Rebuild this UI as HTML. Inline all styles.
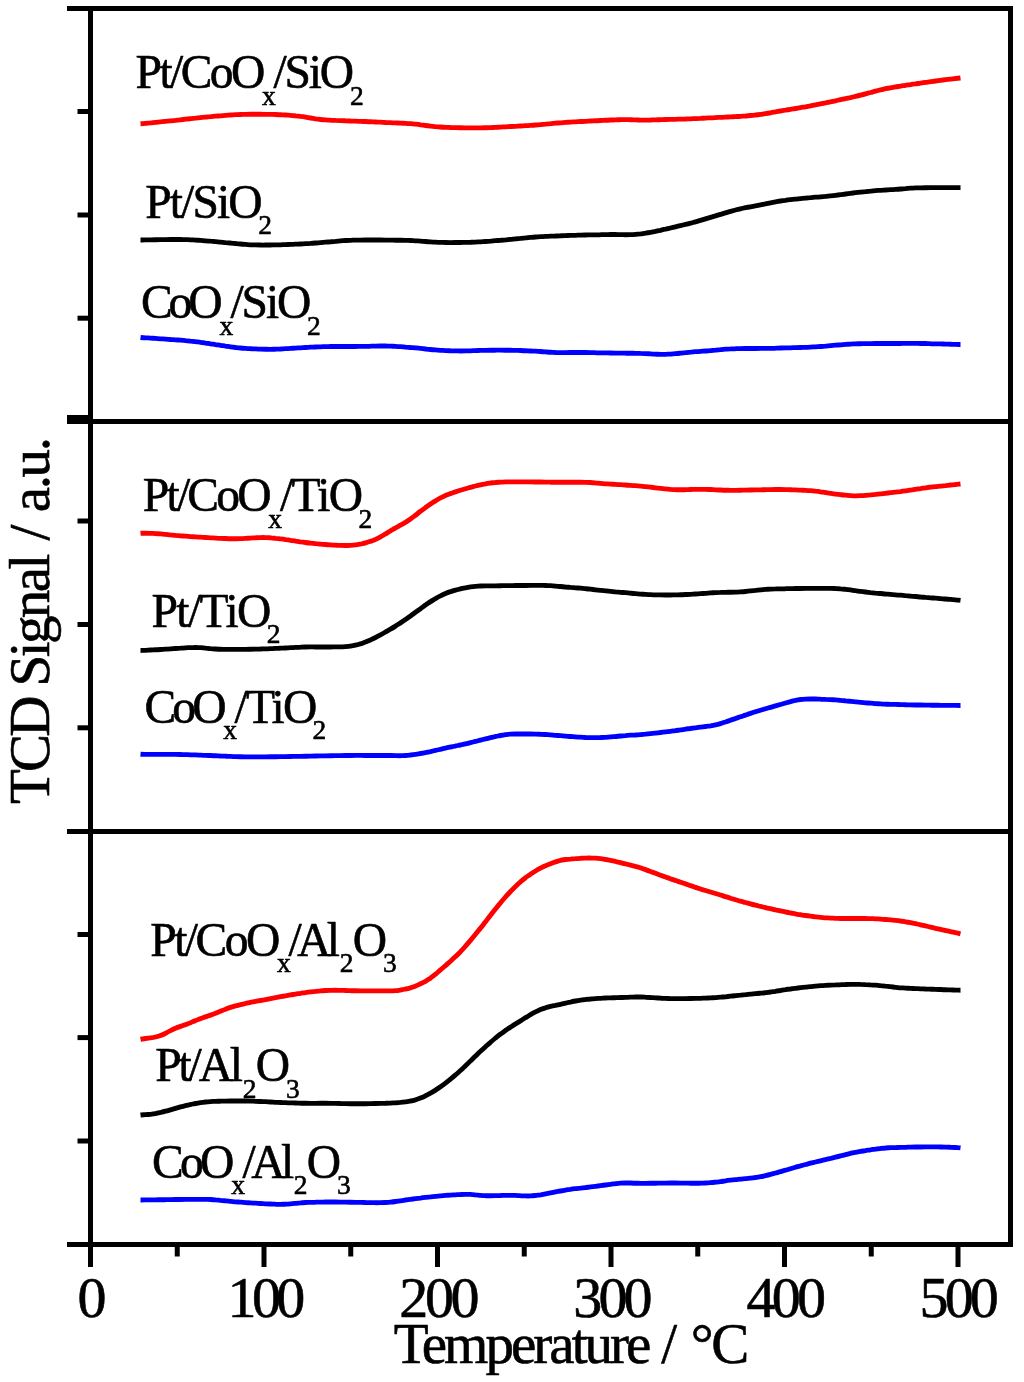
<!DOCTYPE html>
<html lang="en">
<head>
<meta charset="utf-8">
<title>TCD Signal vs Temperature</title>
<style>
html,body{margin:0;padding:0;background:#fff;}
body{width:1024px;height:1382px;overflow:hidden;}
svg{display:block;}
text{font-family:"Liberation Serif","Times New Roman",serif;fill:#000;white-space:pre;stroke:#000;stroke-width:0.6px;stroke-linejoin:round;}
.fr{stroke:#000;stroke-width:5;fill:none;stroke-linecap:butt;}
.cv{fill:none;stroke-width:4.85;stroke-linecap:butt;stroke-linejoin:round;}
</style>
</head>
<body>
<svg width="1024" height="1382" viewBox="0 0 1024 1382">
<rect x="0" y="0" width="1024" height="1382" fill="#ffffff"/>
<g class="fr">
<line x1="90.5" y1="6" x2="90.5" y2="1267"/>
<line x1="1010.5" y1="6" x2="1010.5" y2="1247"/>
<line x1="67" y1="8.5" x2="1013" y2="8.5"/>
<line x1="67" y1="421.5" x2="1013" y2="421.5"/>
<line x1="67" y1="831.5" x2="1013" y2="831.5"/>
<line x1="67" y1="1244.5" x2="1013" y2="1244.5"/>
<line x1="67" y1="417.5" x2="90.5" y2="417.5"/>
<line x1="77.5" y1="111.5" x2="90.5" y2="111.5"/>
<line x1="77.5" y1="215" x2="90.5" y2="215"/>
<line x1="77.5" y1="318.2" x2="90.5" y2="318.2"/>
<line x1="77.5" y1="521" x2="90.5" y2="521"/>
<line x1="77.5" y1="624.5" x2="90.5" y2="624.5"/>
<line x1="77.5" y1="727.8" x2="90.5" y2="727.8"/>
<line x1="77.5" y1="934.5" x2="90.5" y2="934.5"/>
<line x1="77.5" y1="1037.6" x2="90.5" y2="1037.6"/>
<line x1="77.5" y1="1141" x2="90.5" y2="1141"/>
<line x1="177.25" y1="1244.5" x2="177.25" y2="1256.5"/>
<line x1="264.00" y1="1244.5" x2="264.00" y2="1267"/>
<line x1="350.75" y1="1244.5" x2="350.75" y2="1256.5"/>
<line x1="437.50" y1="1244.5" x2="437.50" y2="1267"/>
<line x1="524.25" y1="1244.5" x2="524.25" y2="1256.5"/>
<line x1="611.00" y1="1244.5" x2="611.00" y2="1267"/>
<line x1="697.75" y1="1244.5" x2="697.75" y2="1256.5"/>
<line x1="784.50" y1="1244.5" x2="784.50" y2="1267"/>
<line x1="871.25" y1="1244.5" x2="871.25" y2="1256.5"/>
<line x1="958.00" y1="1244.5" x2="958.00" y2="1267"/>
</g>
<path class="cv" stroke="#ff0000" d="M140.50 123.75 C141.3 123.7 143.8 123.5 145.5 123.3 C147.2 123.2 148.8 123.0 150.5 122.9 C152.2 122.7 153.8 122.6 155.5 122.4 C157.2 122.2 158.8 122.1 160.5 121.9 C162.2 121.8 163.8 121.6 165.5 121.4 C167.2 121.3 168.8 121.1 170.5 120.9 C172.2 120.7 173.8 120.5 175.5 120.4 C177.2 120.2 178.8 120.0 180.5 119.8 C182.2 119.6 183.8 119.4 185.5 119.2 C187.2 119.1 188.8 118.9 190.5 118.7 C192.2 118.5 193.8 118.3 195.5 118.2 C197.2 118.0 198.8 117.8 200.5 117.6 C202.2 117.5 203.8 117.3 205.5 117.1 C207.2 117.0 208.8 116.8 210.5 116.7 C212.2 116.5 213.8 116.4 215.5 116.2 C217.2 116.1 218.8 115.9 220.5 115.8 C222.2 115.7 223.8 115.5 225.5 115.4 C227.2 115.3 228.8 115.1 230.5 115.0 C232.2 114.9 233.8 114.8 235.5 114.7 C237.2 114.6 238.8 114.6 240.5 114.5 C242.2 114.4 243.8 114.4 245.5 114.3 C247.2 114.3 248.8 114.3 250.5 114.2 C252.2 114.2 253.8 114.2 255.5 114.2 C257.2 114.2 258.8 114.2 260.5 114.2 C262.2 114.2 263.8 114.2 265.5 114.3 C267.2 114.3 268.8 114.3 270.5 114.4 C272.2 114.4 273.8 114.5 275.5 114.5 C277.2 114.6 278.8 114.7 280.5 114.7 C282.2 114.8 283.8 114.9 285.5 115.0 C287.2 115.1 288.8 115.2 290.5 115.3 C292.2 115.4 293.8 115.6 295.5 115.8 C297.2 115.9 298.8 116.1 300.5 116.4 C302.2 116.6 303.8 116.8 305.5 117.1 C307.2 117.4 308.8 117.7 310.5 118.0 C312.2 118.3 313.8 118.6 315.5 118.9 C317.2 119.1 318.8 119.3 320.5 119.5 C322.2 119.7 323.8 119.8 325.5 119.9 C327.2 120.0 328.8 120.1 330.5 120.2 C332.2 120.2 333.8 120.3 335.5 120.4 C337.2 120.4 338.8 120.5 340.5 120.6 C342.2 120.6 343.8 120.7 345.5 120.8 C347.2 120.8 348.8 120.9 350.5 121.0 C352.2 121.0 353.8 121.1 355.5 121.1 C357.2 121.2 358.8 121.3 360.5 121.3 C362.2 121.4 363.8 121.5 365.5 121.5 C367.2 121.6 368.8 121.7 370.5 121.7 C372.2 121.8 373.8 121.9 375.5 122.0 C377.2 122.1 378.8 122.1 380.5 122.2 C382.2 122.3 383.8 122.4 385.5 122.5 C387.2 122.5 388.8 122.6 390.5 122.7 C392.2 122.8 393.8 122.8 395.5 122.9 C397.2 123.0 398.8 123.0 400.5 123.1 C402.2 123.2 403.8 123.3 405.5 123.4 C407.2 123.5 408.8 123.6 410.5 123.7 C412.2 123.9 413.8 124.0 415.5 124.2 C417.2 124.4 418.8 124.6 420.5 124.9 C422.2 125.1 423.8 125.3 425.5 125.5 C427.2 125.8 428.8 126.0 430.5 126.2 C432.2 126.4 433.8 126.5 435.5 126.7 C437.2 126.8 438.8 126.9 440.5 127.0 C442.2 127.2 443.8 127.2 445.5 127.3 C447.2 127.4 448.8 127.4 450.5 127.5 C452.2 127.5 453.8 127.6 455.5 127.6 C457.2 127.7 458.8 127.7 460.5 127.7 C462.2 127.8 463.8 127.8 465.5 127.8 C467.2 127.8 468.8 127.9 470.5 127.9 C472.2 127.9 473.8 127.9 475.5 127.9 C477.2 127.9 478.8 127.9 480.5 127.8 C482.2 127.8 483.8 127.8 485.5 127.7 C487.2 127.7 488.8 127.7 490.5 127.6 C492.2 127.5 493.8 127.5 495.5 127.4 C497.2 127.3 498.8 127.2 500.5 127.1 C502.2 127.0 503.8 126.9 505.5 126.8 C507.2 126.7 508.8 126.6 510.5 126.5 C512.2 126.4 513.8 126.3 515.5 126.3 C517.2 126.2 518.8 126.1 520.5 126.0 C522.2 125.9 523.8 125.8 525.5 125.7 C527.2 125.6 528.8 125.5 530.5 125.4 C532.2 125.3 533.8 125.2 535.5 125.0 C537.2 124.9 538.8 124.8 540.5 124.6 C542.2 124.5 543.8 124.3 545.5 124.2 C547.2 124.0 548.8 123.8 550.5 123.7 C552.2 123.5 553.8 123.4 555.5 123.2 C557.2 123.1 558.8 122.9 560.5 122.8 C562.2 122.7 563.8 122.6 565.5 122.4 C567.2 122.3 568.8 122.2 570.5 122.1 C572.2 122.0 573.8 121.9 575.5 121.8 C577.2 121.7 578.8 121.6 580.5 121.5 C582.2 121.5 583.8 121.4 585.5 121.3 C587.2 121.2 588.8 121.1 590.5 121.0 C592.2 120.9 593.8 120.8 595.5 120.7 C597.2 120.7 598.8 120.6 600.5 120.5 C602.2 120.4 603.8 120.3 605.5 120.2 C607.2 120.2 608.8 120.1 610.5 120.0 C612.2 120.0 613.8 119.9 615.5 119.8 C617.2 119.8 618.8 119.7 620.5 119.7 C622.2 119.6 623.8 119.6 625.5 119.6 C627.2 119.6 628.8 119.7 630.5 119.7 C632.2 119.8 633.8 119.9 635.5 119.9 C637.2 120.0 638.8 120.0 640.5 120.1 C642.2 120.1 643.8 120.1 645.5 120.1 C647.2 120.0 648.8 120.0 650.5 120.0 C652.2 119.9 653.8 119.9 655.5 119.8 C657.2 119.8 658.8 119.7 660.5 119.7 C662.2 119.6 663.8 119.6 665.5 119.5 C667.2 119.5 668.8 119.5 670.5 119.4 C672.2 119.4 673.8 119.3 675.5 119.3 C677.2 119.2 678.8 119.2 680.5 119.1 C682.2 119.1 683.8 119.0 685.5 119.0 C687.2 118.9 688.8 118.9 690.5 118.8 C692.2 118.7 693.8 118.7 695.5 118.6 C697.2 118.5 698.8 118.4 700.5 118.4 C702.2 118.3 703.8 118.2 705.5 118.1 C707.2 118.0 708.8 117.9 710.5 117.8 C712.2 117.8 713.8 117.7 715.5 117.6 C717.2 117.5 718.8 117.4 720.5 117.3 C722.2 117.3 723.8 117.2 725.5 117.1 C727.2 117.0 728.8 117.0 730.5 116.9 C732.2 116.8 733.8 116.7 735.5 116.6 C737.2 116.5 738.8 116.5 740.5 116.3 C742.2 116.2 743.8 116.1 745.5 116.0 C747.2 115.8 748.8 115.7 750.5 115.5 C752.2 115.4 753.8 115.2 755.5 115.0 C757.2 114.9 758.8 114.7 760.5 114.4 C762.2 114.2 763.8 114.0 765.5 113.7 C767.2 113.4 768.8 113.1 770.5 112.8 C772.2 112.6 773.8 112.2 775.5 111.9 C777.2 111.6 778.8 111.3 780.5 111.0 C782.2 110.7 783.8 110.4 785.5 110.2 C787.2 109.9 788.8 109.6 790.5 109.3 C792.2 109.0 793.8 108.8 795.5 108.5 C797.2 108.2 798.8 107.9 800.5 107.6 C802.2 107.3 803.8 107.1 805.5 106.8 C807.2 106.5 808.8 106.2 810.5 105.9 C812.2 105.5 813.8 105.2 815.5 104.9 C817.2 104.6 818.8 104.2 820.5 103.9 C822.2 103.6 823.8 103.2 825.5 102.9 C827.2 102.5 828.8 102.2 830.5 101.8 C832.2 101.5 833.8 101.1 835.5 100.8 C837.2 100.4 838.8 100.1 840.5 99.7 C842.2 99.3 843.8 99.0 845.5 98.6 C847.2 98.3 848.8 97.9 850.5 97.6 C852.2 97.2 853.8 96.8 855.5 96.4 C857.2 96.0 858.8 95.6 860.5 95.1 C862.2 94.7 863.8 94.3 865.5 93.8 C867.2 93.4 868.8 92.9 870.5 92.5 C872.2 92.0 873.8 91.6 875.5 91.1 C877.2 90.7 878.8 90.3 880.5 89.9 C882.2 89.5 883.8 89.1 885.5 88.7 C887.2 88.4 888.8 88.1 890.5 87.8 C892.2 87.5 893.8 87.2 895.5 86.9 C897.2 86.6 898.8 86.4 900.5 86.1 C902.2 85.8 903.8 85.6 905.5 85.3 C907.2 85.1 908.8 84.8 910.5 84.6 C912.2 84.3 913.8 84.1 915.5 83.9 C917.2 83.6 918.8 83.4 920.5 83.1 C922.2 82.9 923.8 82.7 925.5 82.4 C927.2 82.2 928.8 81.9 930.5 81.7 C932.2 81.5 933.8 81.2 935.5 81.0 C937.2 80.8 938.8 80.6 940.5 80.3 C942.2 80.1 943.8 79.9 945.5 79.7 C947.2 79.5 948.8 79.3 950.5 79.1 C952.2 78.9 953.8 78.7 955.5 78.5 C957.2 78.4 959.7 78.1 960.5 78.0"/>
<path class="cv" stroke="#000000" d="M140.50 240.00 C141.3 240.0 143.8 239.9 145.5 239.9 C147.2 239.9 148.8 239.9 150.5 239.8 C152.2 239.8 153.8 239.8 155.5 239.7 C157.2 239.7 158.8 239.7 160.5 239.6 C162.2 239.6 163.8 239.6 165.5 239.6 C167.2 239.5 168.8 239.5 170.5 239.5 C172.2 239.5 173.8 239.5 175.5 239.5 C177.2 239.5 178.8 239.5 180.5 239.5 C182.2 239.5 183.8 239.6 185.5 239.6 C187.2 239.7 188.8 239.7 190.5 239.8 C192.2 239.9 193.8 240.0 195.5 240.1 C197.2 240.2 198.8 240.3 200.5 240.4 C202.2 240.5 203.8 240.7 205.5 240.8 C207.2 240.9 208.8 241.0 210.5 241.2 C212.2 241.3 213.8 241.5 215.5 241.6 C217.2 241.8 218.8 241.9 220.5 242.1 C222.2 242.3 223.8 242.4 225.5 242.6 C227.2 242.7 228.8 242.9 230.5 243.0 C232.2 243.2 233.8 243.4 235.5 243.5 C237.2 243.7 238.8 243.9 240.5 244.0 C242.2 244.2 243.8 244.3 245.5 244.4 C247.2 244.6 248.8 244.7 250.5 244.8 C252.2 244.8 253.8 244.9 255.5 244.9 C257.2 245.0 258.8 245.0 260.5 245.0 C262.2 245.1 263.8 245.1 265.5 245.0 C267.2 245.0 268.8 245.0 270.5 245.0 C272.2 245.0 273.8 244.9 275.5 244.9 C277.2 244.8 278.8 244.8 280.5 244.8 C282.2 244.7 283.8 244.7 285.5 244.6 C287.2 244.5 288.8 244.5 290.5 244.4 C292.2 244.3 293.8 244.3 295.5 244.2 C297.2 244.1 298.8 244.1 300.5 244.0 C302.2 243.9 303.8 243.8 305.5 243.7 C307.2 243.6 308.8 243.5 310.5 243.4 C312.2 243.2 313.8 243.1 315.5 243.0 C317.2 242.9 318.8 242.7 320.5 242.6 C322.2 242.5 323.8 242.3 325.5 242.2 C327.2 242.1 328.8 241.9 330.5 241.8 C332.2 241.6 333.8 241.4 335.5 241.3 C337.2 241.1 338.8 241.0 340.5 240.8 C342.2 240.7 343.8 240.6 345.5 240.5 C347.2 240.4 348.8 240.3 350.5 240.3 C352.2 240.2 353.8 240.2 355.5 240.1 C357.2 240.1 358.8 240.1 360.5 240.1 C362.2 240.0 363.8 240.0 365.5 240.0 C367.2 240.0 368.8 240.0 370.5 240.0 C372.2 240.0 373.8 240.0 375.5 240.0 C377.2 240.0 378.8 240.0 380.5 240.0 C382.2 240.1 383.8 240.1 385.5 240.1 C387.2 240.1 388.8 240.1 390.5 240.1 C392.2 240.1 393.8 240.2 395.5 240.2 C397.2 240.2 398.8 240.2 400.5 240.2 C402.2 240.3 403.8 240.3 405.5 240.3 C407.2 240.4 408.8 240.4 410.5 240.5 C412.2 240.6 413.8 240.7 415.5 240.8 C417.2 240.9 418.8 241.0 420.5 241.1 C422.2 241.3 423.8 241.4 425.5 241.5 C427.2 241.7 428.8 241.8 430.5 241.9 C432.2 242.0 433.8 242.1 435.5 242.2 C437.2 242.3 438.8 242.3 440.5 242.4 C442.2 242.4 443.8 242.5 445.5 242.5 C447.2 242.5 448.8 242.5 450.5 242.6 C452.2 242.6 453.8 242.6 455.5 242.5 C457.2 242.5 458.8 242.5 460.5 242.5 C462.2 242.5 463.8 242.4 465.5 242.4 C467.2 242.4 468.8 242.3 470.5 242.3 C472.2 242.2 473.8 242.1 475.5 242.1 C477.2 242.0 478.8 241.9 480.5 241.8 C482.2 241.7 483.8 241.6 485.5 241.5 C487.2 241.4 488.8 241.3 490.5 241.2 C492.2 241.0 493.8 240.9 495.5 240.7 C497.2 240.6 498.8 240.4 500.5 240.3 C502.2 240.1 503.8 239.9 505.5 239.8 C507.2 239.6 508.8 239.5 510.5 239.3 C512.2 239.1 513.8 239.0 515.5 238.8 C517.2 238.7 518.8 238.5 520.5 238.4 C522.2 238.2 523.8 238.0 525.5 237.9 C527.2 237.7 528.8 237.6 530.5 237.4 C532.2 237.3 533.8 237.2 535.5 237.0 C537.2 236.9 538.8 236.8 540.5 236.7 C542.2 236.6 543.8 236.5 545.5 236.4 C547.2 236.3 548.8 236.3 550.5 236.2 C552.2 236.1 553.8 236.0 555.5 236.0 C557.2 235.9 558.8 235.8 560.5 235.8 C562.2 235.7 563.8 235.6 565.5 235.6 C567.2 235.5 568.8 235.5 570.5 235.4 C572.2 235.4 573.8 235.3 575.5 235.3 C577.2 235.2 578.8 235.2 580.5 235.1 C582.2 235.1 583.8 235.1 585.5 235.0 C587.2 235.0 588.8 234.9 590.5 234.9 C592.2 234.8 593.8 234.8 595.5 234.8 C597.2 234.7 598.8 234.7 600.5 234.7 C602.2 234.6 603.8 234.6 605.5 234.6 C607.2 234.6 608.8 234.5 610.5 234.5 C612.2 234.5 613.8 234.5 615.5 234.5 C617.2 234.5 618.8 234.6 620.5 234.6 C622.2 234.6 623.8 234.7 625.5 234.7 C627.2 234.7 628.8 234.7 630.5 234.6 C632.2 234.6 633.8 234.5 635.5 234.3 C637.2 234.2 638.8 234.0 640.5 233.9 C642.2 233.7 643.8 233.4 645.5 233.2 C647.2 232.9 648.8 232.6 650.5 232.3 C652.2 232.0 653.8 231.7 655.5 231.4 C657.2 231.0 658.8 230.6 660.5 230.3 C662.2 229.9 663.8 229.5 665.5 229.2 C667.2 228.8 668.8 228.4 670.5 228.0 C672.2 227.6 673.8 227.2 675.5 226.8 C677.2 226.4 678.8 226.0 680.5 225.6 C682.2 225.2 683.8 224.8 685.5 224.4 C687.2 224.0 688.8 223.6 690.5 223.2 C692.2 222.7 693.8 222.3 695.5 221.8 C697.2 221.4 698.8 220.9 700.5 220.4 C702.2 219.9 703.8 219.4 705.5 218.9 C707.2 218.4 708.8 217.9 710.5 217.4 C712.2 216.9 713.8 216.4 715.5 215.9 C717.2 215.3 718.8 214.8 720.5 214.3 C722.2 213.8 723.8 213.4 725.5 212.9 C727.2 212.4 728.8 211.9 730.5 211.4 C732.2 210.9 733.8 210.4 735.5 210.0 C737.2 209.6 738.8 209.2 740.5 208.8 C742.2 208.4 743.8 208.1 745.5 207.7 C747.2 207.4 748.8 207.1 750.5 206.8 C752.2 206.5 753.8 206.2 755.5 205.9 C757.2 205.6 758.8 205.2 760.5 204.9 C762.2 204.6 763.8 204.2 765.5 203.9 C767.2 203.5 768.8 203.2 770.5 202.8 C772.2 202.5 773.8 202.2 775.5 201.9 C777.2 201.6 778.8 201.3 780.5 201.0 C782.2 200.7 783.8 200.5 785.5 200.3 C787.2 200.0 788.8 199.8 790.5 199.6 C792.2 199.5 793.8 199.3 795.5 199.1 C797.2 198.9 798.8 198.8 800.5 198.6 C802.2 198.5 803.8 198.3 805.5 198.1 C807.2 198.0 808.8 197.8 810.5 197.7 C812.2 197.5 813.8 197.4 815.5 197.2 C817.2 197.1 818.8 197.0 820.5 196.8 C822.2 196.7 823.8 196.5 825.5 196.4 C827.2 196.2 828.8 196.1 830.5 195.9 C832.2 195.7 833.8 195.5 835.5 195.3 C837.2 195.1 838.8 194.9 840.5 194.7 C842.2 194.5 843.8 194.2 845.5 194.0 C847.2 193.8 848.8 193.6 850.5 193.3 C852.2 193.1 853.8 192.9 855.5 192.7 C857.2 192.5 858.8 192.3 860.5 192.1 C862.2 191.9 863.8 191.7 865.5 191.6 C867.2 191.4 868.8 191.2 870.5 191.1 C872.2 190.9 873.8 190.8 875.5 190.6 C877.2 190.5 878.8 190.4 880.5 190.3 C882.2 190.1 883.8 190.1 885.5 190.0 C887.2 189.9 888.8 189.8 890.5 189.7 C892.2 189.6 893.8 189.5 895.5 189.4 C897.2 189.3 898.8 189.2 900.5 189.0 C902.2 188.9 903.8 188.7 905.5 188.6 C907.2 188.4 908.8 188.3 910.5 188.2 C912.2 188.1 913.8 188.0 915.5 187.9 C917.2 187.8 918.8 187.8 920.5 187.8 C922.2 187.7 923.8 187.7 925.5 187.7 C927.2 187.7 928.8 187.7 930.5 187.6 C932.2 187.6 933.8 187.6 935.5 187.6 C937.2 187.6 938.8 187.6 940.5 187.6 C942.2 187.6 943.8 187.6 945.5 187.6 C947.2 187.6 948.8 187.6 950.5 187.6 C952.2 187.6 953.8 187.6 955.5 187.6 C957.2 187.6 959.7 187.6 960.5 187.6"/>
<path class="cv" stroke="#0000ff" d="M140.50 337.50 C141.3 337.6 143.8 337.7 145.5 337.8 C147.2 337.9 148.8 338.0 150.5 338.1 C152.2 338.2 153.8 338.3 155.5 338.4 C157.2 338.6 158.8 338.7 160.5 338.8 C162.2 338.9 163.8 339.0 165.5 339.1 C167.2 339.2 168.8 339.3 170.5 339.5 C172.2 339.6 173.8 339.7 175.5 339.8 C177.2 339.9 178.8 340.1 180.5 340.2 C182.2 340.3 183.8 340.4 185.5 340.6 C187.2 340.7 188.8 340.9 190.5 341.1 C192.2 341.2 193.8 341.4 195.5 341.6 C197.2 341.8 198.8 342.1 200.5 342.3 C202.2 342.5 203.8 342.8 205.5 343.1 C207.2 343.3 208.8 343.6 210.5 343.8 C212.2 344.1 213.8 344.3 215.5 344.6 C217.2 344.8 218.8 345.1 220.5 345.3 C222.2 345.6 223.8 345.8 225.5 346.1 C227.2 346.3 228.8 346.6 230.5 346.8 C232.2 347.1 233.8 347.3 235.5 347.5 C237.2 347.7 238.8 347.9 240.5 348.0 C242.2 348.2 243.8 348.3 245.5 348.4 C247.2 348.5 248.8 348.6 250.5 348.7 C252.2 348.8 253.8 348.9 255.5 348.9 C257.2 349.0 258.8 349.1 260.5 349.1 C262.2 349.2 263.8 349.2 265.5 349.2 C267.2 349.3 268.8 349.3 270.5 349.3 C272.2 349.3 273.8 349.2 275.5 349.2 C277.2 349.1 278.8 349.0 280.5 349.0 C282.2 348.9 283.8 348.8 285.5 348.7 C287.2 348.6 288.8 348.5 290.5 348.4 C292.2 348.3 293.8 348.2 295.5 348.1 C297.2 348.0 298.8 347.9 300.5 347.8 C302.2 347.7 303.8 347.6 305.5 347.5 C307.2 347.4 308.8 347.3 310.5 347.2 C312.2 347.1 313.8 347.1 315.5 347.0 C317.2 346.9 318.8 346.9 320.5 346.8 C322.2 346.7 323.8 346.7 325.5 346.6 C327.2 346.6 328.8 346.5 330.5 346.5 C332.2 346.5 333.8 346.5 335.5 346.5 C337.2 346.4 338.8 346.5 340.5 346.5 C342.2 346.5 343.8 346.5 345.5 346.5 C347.2 346.5 348.8 346.5 350.5 346.5 C352.2 346.5 353.8 346.5 355.5 346.5 C357.2 346.5 358.8 346.4 360.5 346.4 C362.2 346.4 363.8 346.3 365.5 346.3 C367.2 346.2 368.8 346.2 370.5 346.2 C372.2 346.1 373.8 346.1 375.5 346.1 C377.2 346.0 378.8 346.0 380.5 346.0 C382.2 346.0 383.8 346.0 385.5 346.0 C387.2 346.0 388.8 346.1 390.5 346.1 C392.2 346.2 393.8 346.3 395.5 346.4 C397.2 346.5 398.8 346.6 400.5 346.7 C402.2 346.8 403.8 346.9 405.5 347.1 C407.2 347.2 408.8 347.3 410.5 347.5 C412.2 347.6 413.8 347.8 415.5 347.9 C417.2 348.1 418.8 348.3 420.5 348.4 C422.2 348.6 423.8 348.8 425.5 349.0 C427.2 349.2 428.8 349.4 430.5 349.5 C432.2 349.7 433.8 349.8 435.5 349.9 C437.2 350.1 438.8 350.2 440.5 350.3 C442.2 350.4 443.8 350.5 445.5 350.6 C447.2 350.6 448.8 350.7 450.5 350.8 C452.2 350.8 453.8 350.9 455.5 350.9 C457.2 350.9 458.8 351.0 460.5 351.0 C462.2 351.0 463.8 351.0 465.5 350.9 C467.2 350.9 468.8 350.9 470.5 350.8 C472.2 350.7 473.8 350.7 475.5 350.6 C477.2 350.5 478.8 350.5 480.5 350.4 C482.2 350.4 483.8 350.3 485.5 350.3 C487.2 350.2 488.8 350.2 490.5 350.2 C492.2 350.2 493.8 350.2 495.5 350.2 C497.2 350.1 498.8 350.1 500.5 350.1 C502.2 350.2 503.8 350.2 505.5 350.2 C507.2 350.2 508.8 350.2 510.5 350.2 C512.2 350.3 513.8 350.3 515.5 350.4 C517.2 350.4 518.8 350.5 520.5 350.5 C522.2 350.6 523.8 350.7 525.5 350.7 C527.2 350.8 528.8 350.9 530.5 351.0 C532.2 351.1 533.8 351.1 535.5 351.2 C537.2 351.3 538.8 351.4 540.5 351.5 C542.2 351.7 543.8 351.8 545.5 351.9 C547.2 352.0 548.8 352.2 550.5 352.2 C552.2 352.3 553.8 352.4 555.5 352.5 C557.2 352.5 558.8 352.5 560.5 352.6 C562.2 352.6 563.8 352.6 565.5 352.6 C567.2 352.6 568.8 352.6 570.5 352.5 C572.2 352.5 573.8 352.5 575.5 352.5 C577.2 352.5 578.8 352.5 580.5 352.5 C582.2 352.5 583.8 352.5 585.5 352.5 C587.2 352.5 588.8 352.5 590.5 352.6 C592.2 352.6 593.8 352.6 595.5 352.7 C597.2 352.7 598.8 352.7 600.5 352.8 C602.2 352.8 603.8 352.9 605.5 352.9 C607.2 352.9 608.8 353.0 610.5 353.0 C612.2 353.0 613.8 353.0 615.5 353.1 C617.2 353.1 618.8 353.1 620.5 353.1 C622.2 353.1 623.8 353.1 625.5 353.2 C627.2 353.2 628.8 353.2 630.5 353.2 C632.2 353.2 633.8 353.3 635.5 353.3 C637.2 353.3 638.8 353.3 640.5 353.4 C642.2 353.4 643.8 353.5 645.5 353.6 C647.2 353.6 648.8 353.8 650.5 353.9 C652.2 354.0 653.8 354.1 655.5 354.2 C657.2 354.2 658.8 354.3 660.5 354.3 C662.2 354.3 663.8 354.3 665.5 354.3 C667.2 354.2 668.8 354.2 670.5 354.1 C672.2 354.0 673.8 353.8 675.5 353.7 C677.2 353.6 678.8 353.4 680.5 353.2 C682.2 353.0 683.8 352.8 685.5 352.7 C687.2 352.5 688.8 352.3 690.5 352.2 C692.2 352.0 693.8 351.9 695.5 351.7 C697.2 351.6 698.8 351.5 700.5 351.3 C702.2 351.2 703.8 351.1 705.5 351.0 C707.2 350.9 708.8 350.7 710.5 350.6 C712.2 350.5 713.8 350.3 715.5 350.2 C717.2 350.0 718.8 349.8 720.5 349.7 C722.2 349.5 723.8 349.3 725.5 349.2 C727.2 349.1 728.8 348.9 730.5 348.9 C732.2 348.8 733.8 348.7 735.5 348.7 C737.2 348.6 738.8 348.6 740.5 348.6 C742.2 348.6 743.8 348.6 745.5 348.5 C747.2 348.5 748.8 348.5 750.5 348.5 C752.2 348.5 753.8 348.5 755.5 348.5 C757.2 348.5 758.8 348.5 760.5 348.4 C762.2 348.4 763.8 348.4 765.5 348.4 C767.2 348.3 768.8 348.3 770.5 348.3 C772.2 348.2 773.8 348.2 775.5 348.2 C777.2 348.1 778.8 348.1 780.5 348.0 C782.2 348.0 783.8 348.0 785.5 347.9 C787.2 347.9 788.8 347.8 790.5 347.8 C792.2 347.7 793.8 347.7 795.5 347.6 C797.2 347.6 798.8 347.6 800.5 347.5 C802.2 347.4 803.8 347.4 805.5 347.3 C807.2 347.3 808.8 347.2 810.5 347.1 C812.2 347.0 813.8 346.9 815.5 346.8 C817.2 346.7 818.8 346.6 820.5 346.5 C822.2 346.4 823.8 346.2 825.5 346.1 C827.2 345.9 828.8 345.8 830.5 345.6 C832.2 345.5 833.8 345.3 835.5 345.2 C837.2 345.1 838.8 344.9 840.5 344.8 C842.2 344.7 843.8 344.5 845.5 344.4 C847.2 344.3 848.8 344.2 850.5 344.1 C852.2 344.0 853.8 343.9 855.5 343.8 C857.2 343.8 858.8 343.7 860.5 343.7 C862.2 343.7 863.8 343.6 865.5 343.6 C867.2 343.6 868.8 343.6 870.5 343.6 C872.2 343.6 873.8 343.6 875.5 343.5 C877.2 343.5 878.8 343.5 880.5 343.5 C882.2 343.5 883.8 343.5 885.5 343.5 C887.2 343.5 888.8 343.5 890.5 343.5 C892.2 343.5 893.8 343.5 895.5 343.5 C897.2 343.5 898.8 343.5 900.5 343.5 C902.2 343.5 903.8 343.4 905.5 343.4 C907.2 343.4 908.8 343.4 910.5 343.4 C912.2 343.4 913.8 343.4 915.5 343.4 C917.2 343.4 918.8 343.5 920.5 343.5 C922.2 343.5 923.8 343.5 925.5 343.5 C927.2 343.6 928.8 343.6 930.5 343.7 C932.2 343.7 933.8 343.7 935.5 343.8 C937.2 343.8 938.8 343.9 940.5 343.9 C942.2 344.0 943.8 344.0 945.5 344.1 C947.2 344.1 948.8 344.2 950.5 344.2 C952.2 344.3 953.8 344.3 955.5 344.4 C957.2 344.4 959.7 344.5 960.5 344.5"/>
<path class="cv" stroke="#ff0000" d="M140.50 533.25 C141.3 533.2 143.8 533.2 145.5 533.2 C147.2 533.3 148.8 533.3 150.5 533.3 C152.2 533.4 153.8 533.5 155.5 533.6 C157.2 533.7 158.8 533.8 160.5 533.9 C162.2 534.1 163.8 534.2 165.5 534.4 C167.2 534.6 168.8 534.7 170.5 534.9 C172.2 535.0 173.8 535.2 175.5 535.4 C177.2 535.5 178.8 535.6 180.5 535.8 C182.2 535.9 183.8 536.1 185.5 536.2 C187.2 536.3 188.8 536.4 190.5 536.6 C192.2 536.7 193.8 536.8 195.5 536.9 C197.2 537.0 198.8 537.1 200.5 537.2 C202.2 537.3 203.8 537.4 205.5 537.5 C207.2 537.6 208.8 537.7 210.5 537.8 C212.2 537.9 213.8 538.0 215.5 538.1 C217.2 538.2 218.8 538.3 220.5 538.3 C222.2 538.4 223.8 538.5 225.5 538.5 C227.2 538.6 228.8 538.7 230.5 538.7 C232.2 538.7 233.8 538.7 235.5 538.7 C237.2 538.7 238.8 538.7 240.5 538.6 C242.2 538.6 243.8 538.5 245.5 538.4 C247.2 538.3 248.8 538.2 250.5 538.1 C252.2 538.0 253.8 537.9 255.5 537.8 C257.2 537.7 258.8 537.6 260.5 537.6 C262.2 537.5 263.8 537.5 265.5 537.6 C267.2 537.6 268.8 537.7 270.5 537.8 C272.2 537.9 273.8 538.1 275.5 538.3 C277.2 538.4 278.8 538.7 280.5 538.9 C282.2 539.1 283.8 539.3 285.5 539.6 C287.2 539.8 288.8 540.0 290.5 540.3 C292.2 540.5 293.8 540.8 295.5 541.1 C297.2 541.3 298.8 541.6 300.5 541.9 C302.2 542.1 303.8 542.3 305.5 542.5 C307.2 542.8 308.8 543.0 310.5 543.1 C312.2 543.3 313.8 543.5 315.5 543.7 C317.2 543.8 318.8 544.0 320.5 544.1 C322.2 544.3 323.8 544.4 325.5 544.5 C327.2 544.7 328.8 544.8 330.5 544.9 C332.2 545.0 333.8 545.1 335.5 545.2 C337.2 545.3 338.8 545.4 340.5 545.4 C342.2 545.5 343.8 545.5 345.5 545.5 C347.2 545.5 348.8 545.4 350.5 545.3 C352.2 545.2 353.8 545.1 355.5 544.9 C357.2 544.7 358.8 544.4 360.5 544.1 C362.2 543.7 363.8 543.4 365.5 542.9 C367.2 542.4 368.8 541.9 370.5 541.3 C372.2 540.8 373.8 540.1 375.5 539.4 C377.2 538.6 378.8 537.8 380.5 536.8 C382.2 535.9 383.8 534.9 385.5 533.9 C387.2 532.9 388.8 531.8 390.5 530.8 C392.2 529.9 393.8 528.9 395.5 528.0 C397.2 527.0 398.8 526.2 400.5 525.2 C402.2 524.3 403.8 523.3 405.5 522.3 C407.2 521.3 408.8 520.2 410.5 519.0 C412.2 517.8 413.8 516.5 415.5 515.2 C417.2 513.9 418.8 512.6 420.5 511.3 C422.2 510.1 423.8 508.9 425.5 507.6 C427.2 506.4 428.8 505.3 430.5 504.1 C432.2 503.0 433.8 501.8 435.5 500.8 C437.2 499.8 438.8 498.8 440.5 497.9 C442.2 497.1 443.8 496.3 445.5 495.6 C447.2 494.9 448.8 494.3 450.5 493.6 C452.2 493.0 453.8 492.5 455.5 491.9 C457.2 491.3 458.8 490.8 460.5 490.2 C462.2 489.7 463.8 489.2 465.5 488.7 C467.2 488.2 468.8 487.8 470.5 487.3 C472.2 486.9 473.8 486.4 475.5 486.0 C477.2 485.6 478.8 485.2 480.5 484.8 C482.2 484.4 483.8 484.1 485.5 483.8 C487.2 483.4 488.8 483.2 490.5 483.0 C492.2 482.7 493.8 482.6 495.5 482.5 C497.2 482.3 498.8 482.3 500.5 482.2 C502.2 482.1 503.8 482.0 505.5 481.9 C507.2 481.8 508.8 481.8 510.5 481.8 C512.2 481.8 513.8 481.8 515.5 481.8 C517.2 481.8 518.8 481.8 520.5 481.8 C522.2 481.8 523.8 481.8 525.5 481.9 C527.2 481.9 528.8 481.9 530.5 481.9 C532.2 482.0 533.8 482.0 535.5 482.0 C537.2 482.0 538.8 482.0 540.5 482.0 C542.2 482.1 543.8 482.1 545.5 482.1 C547.2 482.1 548.8 482.1 550.5 482.2 C552.2 482.2 553.8 482.2 555.5 482.2 C557.2 482.2 558.8 482.2 560.5 482.2 C562.2 482.2 563.8 482.2 565.5 482.2 C567.2 482.2 568.8 482.2 570.5 482.2 C572.2 482.2 573.8 482.2 575.5 482.2 C577.2 482.2 578.8 482.2 580.5 482.2 C582.2 482.2 583.8 482.2 585.5 482.3 C587.2 482.3 588.8 482.4 590.5 482.5 C592.2 482.6 593.8 482.8 595.5 483.0 C597.2 483.1 598.8 483.3 600.5 483.4 C602.2 483.6 603.8 483.7 605.5 483.8 C607.2 483.9 608.8 484.0 610.5 484.1 C612.2 484.2 613.8 484.3 615.5 484.4 C617.2 484.5 618.8 484.6 620.5 484.7 C622.2 484.8 623.8 484.9 625.5 485.0 C627.2 485.2 628.8 485.3 630.5 485.4 C632.2 485.5 633.8 485.6 635.5 485.7 C637.2 485.9 638.8 486.0 640.5 486.1 C642.2 486.3 643.8 486.4 645.5 486.6 C647.2 486.8 648.8 487.0 650.5 487.2 C652.2 487.4 653.8 487.6 655.5 487.8 C657.2 488.0 658.8 488.2 660.5 488.4 C662.2 488.6 663.8 488.7 665.5 488.9 C667.2 489.1 668.8 489.2 670.5 489.4 C672.2 489.5 673.8 489.6 675.5 489.7 C677.2 489.7 678.8 489.7 680.5 489.7 C682.2 489.7 683.8 489.7 685.5 489.7 C687.2 489.6 688.8 489.6 690.5 489.5 C692.2 489.4 693.8 489.4 695.5 489.3 C697.2 489.3 698.8 489.3 700.5 489.3 C702.2 489.3 703.8 489.3 705.5 489.3 C707.2 489.4 708.8 489.5 710.5 489.5 C712.2 489.6 713.8 489.7 715.5 489.8 C717.2 489.9 718.8 490.0 720.5 490.0 C722.2 490.1 723.8 490.2 725.5 490.2 C727.2 490.2 728.8 490.3 730.5 490.3 C732.2 490.3 733.8 490.3 735.5 490.3 C737.2 490.2 738.8 490.2 740.5 490.2 C742.2 490.2 743.8 490.1 745.5 490.1 C747.2 490.1 748.8 490.1 750.5 490.0 C752.2 490.0 753.8 490.0 755.5 489.9 C757.2 489.9 758.8 489.8 760.5 489.8 C762.2 489.8 763.8 489.7 765.5 489.7 C767.2 489.6 768.8 489.6 770.5 489.6 C772.2 489.5 773.8 489.5 775.5 489.5 C777.2 489.5 778.8 489.5 780.5 489.5 C782.2 489.5 783.8 489.5 785.5 489.6 C787.2 489.6 788.8 489.7 790.5 489.7 C792.2 489.8 793.8 489.8 795.5 489.9 C797.2 490.0 798.8 490.1 800.5 490.1 C802.2 490.2 803.8 490.3 805.5 490.4 C807.2 490.5 808.8 490.6 810.5 490.7 C812.2 490.9 813.8 491.0 815.5 491.2 C817.2 491.3 818.8 491.5 820.5 491.8 C822.2 492.0 823.8 492.3 825.5 492.5 C827.2 492.8 828.8 493.1 830.5 493.3 C832.2 493.6 833.8 493.9 835.5 494.1 C837.2 494.3 838.8 494.5 840.5 494.7 C842.2 494.9 843.8 495.1 845.5 495.2 C847.2 495.4 848.8 495.5 850.5 495.6 C852.2 495.7 853.8 495.8 855.5 495.8 C857.2 495.8 858.8 495.8 860.5 495.7 C862.2 495.6 863.8 495.5 865.5 495.3 C867.2 495.2 868.8 495.0 870.5 494.9 C872.2 494.7 873.8 494.5 875.5 494.4 C877.2 494.2 878.8 494.0 880.5 493.8 C882.2 493.6 883.8 493.5 885.5 493.3 C887.2 493.1 888.8 492.9 890.5 492.7 C892.2 492.5 893.8 492.4 895.5 492.2 C897.2 492.0 898.8 491.8 900.5 491.6 C902.2 491.3 903.8 491.1 905.5 490.9 C907.2 490.7 908.8 490.4 910.5 490.1 C912.2 489.9 913.8 489.6 915.5 489.3 C917.2 489.1 918.8 488.8 920.5 488.6 C922.2 488.3 923.8 488.1 925.5 487.8 C927.2 487.6 928.8 487.4 930.5 487.2 C932.2 487.0 933.8 486.8 935.5 486.6 C937.2 486.4 938.8 486.3 940.5 486.1 C942.2 485.9 943.8 485.7 945.5 485.6 C947.2 485.4 948.8 485.2 950.5 485.0 C952.2 484.9 953.8 484.7 955.5 484.5 C957.2 484.3 959.7 484.1 960.5 484.0"/>
<path class="cv" stroke="#000000" d="M140.50 650.50 C141.3 650.5 143.8 650.3 145.5 650.3 C147.2 650.2 148.8 650.1 150.5 650.0 C152.2 649.9 153.8 649.8 155.5 649.7 C157.2 649.7 158.8 649.6 160.5 649.5 C162.2 649.4 163.8 649.3 165.5 649.2 C167.2 649.1 168.8 649.0 170.5 648.9 C172.2 648.8 173.8 648.6 175.5 648.5 C177.2 648.4 178.8 648.3 180.5 648.2 C182.2 648.0 183.8 647.9 185.5 647.8 C187.2 647.7 188.8 647.7 190.5 647.6 C192.2 647.6 193.8 647.5 195.5 647.5 C197.2 647.6 198.8 647.6 200.5 647.7 C202.2 647.8 203.8 647.9 205.5 648.1 C207.2 648.2 208.8 648.4 210.5 648.6 C212.2 648.7 213.8 648.9 215.5 649.0 C217.2 649.1 218.8 649.2 220.5 649.2 C222.2 649.3 223.8 649.3 225.5 649.4 C227.2 649.4 228.8 649.4 230.5 649.4 C232.2 649.4 233.8 649.4 235.5 649.4 C237.2 649.4 238.8 649.4 240.5 649.4 C242.2 649.4 243.8 649.3 245.5 649.3 C247.2 649.3 248.8 649.3 250.5 649.2 C252.2 649.2 253.8 649.2 255.5 649.1 C257.2 649.1 258.8 649.0 260.5 649.0 C262.2 648.9 263.8 648.9 265.5 648.8 C267.2 648.8 268.8 648.7 270.5 648.6 C272.2 648.6 273.8 648.5 275.5 648.4 C277.2 648.4 278.8 648.3 280.5 648.2 C282.2 648.1 283.8 648.1 285.5 648.0 C287.2 647.9 288.8 647.8 290.5 647.7 C292.2 647.6 293.8 647.5 295.5 647.4 C297.2 647.3 298.8 647.2 300.5 647.2 C302.2 647.1 303.8 647.0 305.5 647.0 C307.2 647.0 308.8 647.0 310.5 646.9 C312.2 646.9 313.8 647.0 315.5 647.0 C317.2 647.0 318.8 647.0 320.5 647.0 C322.2 647.0 323.8 647.0 325.5 647.0 C327.2 647.0 328.8 647.0 330.5 647.0 C332.2 647.0 333.8 646.9 335.5 646.9 C337.2 646.9 338.8 646.9 340.5 646.8 C342.2 646.8 343.8 646.7 345.5 646.6 C347.2 646.5 348.8 646.4 350.5 646.1 C352.2 645.9 353.8 645.6 355.5 645.2 C357.2 644.8 358.8 644.4 360.5 643.8 C362.2 643.3 363.8 642.6 365.5 642.0 C367.2 641.3 368.8 640.6 370.5 639.9 C372.2 639.1 373.8 638.3 375.5 637.5 C377.2 636.6 378.8 635.7 380.5 634.8 C382.2 633.9 383.8 633.0 385.5 632.0 C387.2 631.1 388.8 630.1 390.5 629.2 C392.2 628.2 393.8 627.2 395.5 626.1 C397.2 625.1 398.8 624.0 400.5 622.9 C402.2 621.8 403.8 620.7 405.5 619.5 C407.2 618.4 408.8 617.2 410.5 616.0 C412.2 614.8 413.8 613.6 415.5 612.3 C417.2 611.1 418.8 609.9 420.5 608.7 C422.2 607.5 423.8 606.2 425.5 605.0 C427.2 603.9 428.8 602.7 430.5 601.6 C432.2 600.6 433.8 599.6 435.5 598.6 C437.2 597.6 438.8 596.7 440.5 595.9 C442.2 595.0 443.8 594.2 445.5 593.5 C447.2 592.8 448.8 592.2 450.5 591.7 C452.2 591.1 453.8 590.6 455.5 590.1 C457.2 589.7 458.8 589.3 460.5 588.9 C462.2 588.5 463.8 588.1 465.5 587.8 C467.2 587.5 468.8 587.2 470.5 586.9 C472.2 586.7 473.8 586.5 475.5 586.3 C477.2 586.2 478.8 586.1 480.5 586.0 C482.2 585.9 483.8 585.9 485.5 585.9 C487.2 585.8 488.8 585.8 490.5 585.8 C492.2 585.8 493.8 585.8 495.5 585.8 C497.2 585.7 498.8 585.7 500.5 585.7 C502.2 585.7 503.8 585.6 505.5 585.6 C507.2 585.6 508.8 585.6 510.5 585.6 C512.2 585.6 513.8 585.5 515.5 585.5 C517.2 585.5 518.8 585.5 520.5 585.5 C522.2 585.5 523.8 585.5 525.5 585.5 C527.2 585.4 528.8 585.4 530.5 585.4 C532.2 585.4 533.8 585.4 535.5 585.4 C537.2 585.4 538.8 585.4 540.5 585.4 C542.2 585.4 543.8 585.5 545.5 585.5 C547.2 585.6 548.8 585.6 550.5 585.7 C552.2 585.8 553.8 586.0 555.5 586.1 C557.2 586.2 558.8 586.4 560.5 586.5 C562.2 586.7 563.8 586.8 565.5 587.0 C567.2 587.1 568.8 587.2 570.5 587.4 C572.2 587.5 573.8 587.6 575.5 587.8 C577.2 587.9 578.8 588.1 580.5 588.2 C582.2 588.4 583.8 588.5 585.5 588.7 C587.2 588.9 588.8 589.1 590.5 589.2 C592.2 589.4 593.8 589.6 595.5 589.8 C597.2 590.0 598.8 590.2 600.5 590.4 C602.2 590.6 603.8 590.8 605.5 590.9 C607.2 591.1 608.8 591.3 610.5 591.4 C612.2 591.6 613.8 591.7 615.5 591.9 C617.2 592.0 618.8 592.1 620.5 592.3 C622.2 592.4 623.8 592.6 625.5 592.7 C627.2 592.9 628.8 593.0 630.5 593.2 C632.2 593.4 633.8 593.6 635.5 593.7 C637.2 593.9 638.8 594.0 640.5 594.1 C642.2 594.2 643.8 594.3 645.5 594.4 C647.2 594.5 648.8 594.6 650.5 594.6 C652.2 594.7 653.8 594.8 655.5 594.8 C657.2 594.9 658.8 594.9 660.5 594.9 C662.2 595.0 663.8 595.0 665.5 595.0 C667.2 595.0 668.8 595.0 670.5 595.0 C672.2 595.0 673.8 594.9 675.5 594.9 C677.2 594.8 678.8 594.8 680.5 594.7 C682.2 594.7 683.8 594.6 685.5 594.5 C687.2 594.5 688.8 594.4 690.5 594.3 C692.2 594.2 693.8 594.1 695.5 594.0 C697.2 593.9 698.8 593.8 700.5 593.7 C702.2 593.6 703.8 593.4 705.5 593.3 C707.2 593.2 708.8 593.0 710.5 592.9 C712.2 592.8 713.8 592.7 715.5 592.6 C717.2 592.5 718.8 592.4 720.5 592.4 C722.2 592.3 723.8 592.3 725.5 592.3 C727.2 592.3 728.8 592.2 730.5 592.2 C732.2 592.2 733.8 592.2 735.5 592.1 C737.2 592.1 738.8 592.0 740.5 591.9 C742.2 591.8 743.8 591.7 745.5 591.5 C747.2 591.3 748.8 591.1 750.5 590.9 C752.2 590.7 753.8 590.5 755.5 590.4 C757.2 590.2 758.8 590.0 760.5 589.8 C762.2 589.7 763.8 589.5 765.5 589.4 C767.2 589.3 768.8 589.2 770.5 589.1 C772.2 589.0 773.8 588.9 775.5 588.9 C777.2 588.8 778.8 588.8 780.5 588.8 C782.2 588.7 783.8 588.7 785.5 588.7 C787.2 588.6 788.8 588.6 790.5 588.6 C792.2 588.6 793.8 588.5 795.5 588.5 C797.2 588.5 798.8 588.5 800.5 588.5 C802.2 588.5 803.8 588.5 805.5 588.4 C807.2 588.4 808.8 588.4 810.5 588.4 C812.2 588.4 813.8 588.4 815.5 588.4 C817.2 588.4 818.8 588.4 820.5 588.4 C822.2 588.4 823.8 588.4 825.5 588.4 C827.2 588.4 828.8 588.4 830.5 588.4 C832.2 588.4 833.8 588.4 835.5 588.5 C837.2 588.5 838.8 588.6 840.5 588.8 C842.2 588.9 843.8 589.1 845.5 589.3 C847.2 589.5 848.8 589.7 850.5 589.9 C852.2 590.2 853.8 590.4 855.5 590.7 C857.2 590.9 858.8 591.2 860.5 591.4 C862.2 591.6 863.8 591.8 865.5 592.0 C867.2 592.2 868.8 592.4 870.5 592.6 C872.2 592.7 873.8 592.9 875.5 593.1 C877.2 593.2 878.8 593.4 880.5 593.5 C882.2 593.7 883.8 593.8 885.5 594.0 C887.2 594.1 888.8 594.3 890.5 594.4 C892.2 594.6 893.8 594.7 895.5 594.8 C897.2 595.0 898.8 595.1 900.5 595.2 C902.2 595.4 903.8 595.5 905.5 595.7 C907.2 595.8 908.8 596.0 910.5 596.1 C912.2 596.3 913.8 596.4 915.5 596.5 C917.2 596.7 918.8 596.8 920.5 597.0 C922.2 597.1 923.8 597.2 925.5 597.4 C927.2 597.5 928.8 597.6 930.5 597.8 C932.2 597.9 933.8 598.1 935.5 598.2 C937.2 598.3 938.8 598.5 940.5 598.6 C942.2 598.7 943.8 598.9 945.5 599.0 C947.2 599.2 948.8 599.3 950.5 599.4 C952.2 599.6 953.8 599.7 955.5 599.8 C957.2 600.0 959.7 600.2 960.5 600.3"/>
<path class="cv" stroke="#0000ff" d="M140.50 754.25 C141.3 754.3 143.8 754.3 145.5 754.3 C147.2 754.3 148.8 754.3 150.5 754.3 C152.2 754.3 153.8 754.3 155.5 754.3 C157.2 754.3 158.8 754.3 160.5 754.3 C162.2 754.3 163.8 754.3 165.5 754.4 C167.2 754.4 168.8 754.4 170.5 754.4 C172.2 754.4 173.8 754.4 175.5 754.4 C177.2 754.5 178.8 754.5 180.5 754.5 C182.2 754.5 183.8 754.6 185.5 754.6 C187.2 754.7 188.8 754.7 190.5 754.8 C192.2 754.8 193.8 754.9 195.5 754.9 C197.2 755.0 198.8 755.1 200.5 755.1 C202.2 755.2 203.8 755.3 205.5 755.3 C207.2 755.4 208.8 755.5 210.5 755.5 C212.2 755.6 213.8 755.7 215.5 755.7 C217.2 755.8 218.8 755.9 220.5 756.0 C222.2 756.0 223.8 756.1 225.5 756.2 C227.2 756.3 228.8 756.4 230.5 756.4 C232.2 756.5 233.8 756.6 235.5 756.6 C237.2 756.7 238.8 756.7 240.5 756.7 C242.2 756.8 243.8 756.8 245.5 756.8 C247.2 756.8 248.8 756.9 250.5 756.9 C252.2 756.9 253.8 756.9 255.5 756.9 C257.2 756.8 258.8 756.8 260.5 756.8 C262.2 756.8 263.8 756.8 265.5 756.8 C267.2 756.8 268.8 756.8 270.5 756.7 C272.2 756.7 273.8 756.7 275.5 756.7 C277.2 756.7 278.8 756.7 280.5 756.6 C282.2 756.6 283.8 756.6 285.5 756.6 C287.2 756.5 288.8 756.5 290.5 756.5 C292.2 756.5 293.8 756.4 295.5 756.4 C297.2 756.4 298.8 756.4 300.5 756.3 C302.2 756.3 303.8 756.3 305.5 756.2 C307.2 756.2 308.8 756.2 310.5 756.1 C312.2 756.1 313.8 756.1 315.5 756.0 C317.2 756.0 318.8 756.0 320.5 755.9 C322.2 755.9 323.8 755.9 325.5 755.8 C327.2 755.8 328.8 755.8 330.5 755.7 C332.2 755.7 333.8 755.7 335.5 755.6 C337.2 755.6 338.8 755.6 340.5 755.6 C342.2 755.5 343.8 755.5 345.5 755.5 C347.2 755.5 348.8 755.5 350.5 755.5 C352.2 755.5 353.8 755.5 355.5 755.4 C357.2 755.4 358.8 755.4 360.5 755.4 C362.2 755.4 363.8 755.4 365.5 755.5 C367.2 755.5 368.8 755.5 370.5 755.5 C372.2 755.5 373.8 755.5 375.5 755.5 C377.2 755.5 378.8 755.5 380.5 755.5 C382.2 755.5 383.8 755.5 385.5 755.5 C387.2 755.5 388.8 755.5 390.5 755.5 C392.2 755.6 393.8 755.6 395.5 755.6 C397.2 755.7 398.8 755.7 400.5 755.7 C402.2 755.6 403.8 755.6 405.5 755.5 C407.2 755.4 408.8 755.2 410.5 755.0 C412.2 754.8 413.8 754.6 415.5 754.3 C417.2 754.1 418.8 753.8 420.5 753.5 C422.2 753.2 423.8 752.9 425.5 752.6 C427.2 752.3 428.8 751.9 430.5 751.6 C432.2 751.2 433.8 750.8 435.5 750.4 C437.2 750.1 438.8 749.7 440.5 749.3 C442.2 748.9 443.8 748.5 445.5 748.1 C447.2 747.8 448.8 747.4 450.5 747.0 C452.2 746.7 453.8 746.4 455.5 746.0 C457.2 745.7 458.8 745.3 460.5 745.0 C462.2 744.6 463.8 744.2 465.5 743.8 C467.2 743.5 468.8 743.1 470.5 742.6 C472.2 742.2 473.8 741.8 475.5 741.4 C477.2 741.0 478.8 740.5 480.5 740.1 C482.2 739.7 483.8 739.3 485.5 738.9 C487.2 738.5 488.8 738.1 490.5 737.7 C492.2 737.3 493.8 736.9 495.5 736.5 C497.2 736.2 498.8 735.8 500.5 735.5 C502.2 735.2 503.8 734.9 505.5 734.6 C507.2 734.4 508.8 734.2 510.5 734.1 C512.2 734.0 513.8 734.0 515.5 734.0 C517.2 734.0 518.8 734.0 520.5 734.0 C522.2 734.0 523.8 734.0 525.5 734.0 C527.2 734.0 528.8 734.0 530.5 734.0 C532.2 734.0 533.8 734.0 535.5 734.1 C537.2 734.1 538.8 734.2 540.5 734.3 C542.2 734.3 543.8 734.4 545.5 734.5 C547.2 734.6 548.8 734.8 550.5 734.9 C552.2 735.0 553.8 735.2 555.5 735.3 C557.2 735.4 558.8 735.6 560.5 735.7 C562.2 735.8 563.8 736.0 565.5 736.1 C567.2 736.2 568.8 736.4 570.5 736.5 C572.2 736.6 573.8 736.8 575.5 736.9 C577.2 737.0 578.8 737.1 580.5 737.2 C582.2 737.3 583.8 737.4 585.5 737.5 C587.2 737.5 588.8 737.6 590.5 737.6 C592.2 737.6 593.8 737.6 595.5 737.6 C597.2 737.6 598.8 737.5 600.5 737.5 C602.2 737.4 603.8 737.3 605.5 737.3 C607.2 737.2 608.8 737.1 610.5 736.9 C612.2 736.8 613.8 736.6 615.5 736.5 C617.2 736.3 618.8 736.2 620.5 736.0 C622.2 735.9 623.8 735.7 625.5 735.6 C627.2 735.4 628.8 735.3 630.5 735.2 C632.2 735.1 633.8 735.1 635.5 735.0 C637.2 734.8 638.8 734.7 640.5 734.6 C642.2 734.5 643.8 734.3 645.5 734.2 C647.2 734.0 648.8 733.8 650.5 733.6 C652.2 733.5 653.8 733.3 655.5 733.1 C657.2 732.9 658.8 732.7 660.5 732.5 C662.2 732.3 663.8 732.1 665.5 731.9 C667.2 731.7 668.8 731.5 670.5 731.3 C672.2 731.1 673.8 730.8 675.5 730.6 C677.2 730.4 678.8 730.1 680.5 729.9 C682.2 729.7 683.8 729.4 685.5 729.2 C687.2 728.9 688.8 728.7 690.5 728.5 C692.2 728.2 693.8 728.0 695.5 727.8 C697.2 727.6 698.8 727.4 700.5 727.1 C702.2 726.9 703.8 726.7 705.5 726.5 C707.2 726.3 708.8 726.0 710.5 725.8 C712.2 725.5 713.8 725.2 715.5 724.8 C717.2 724.5 718.8 724.1 720.5 723.6 C722.2 723.1 723.8 722.5 725.5 722.0 C727.2 721.4 728.8 720.8 730.5 720.2 C732.2 719.7 733.8 719.1 735.5 718.5 C737.2 717.9 738.8 717.4 740.5 716.8 C742.2 716.2 743.8 715.7 745.5 715.1 C747.2 714.5 748.8 713.9 750.5 713.4 C752.2 712.8 753.8 712.3 755.5 711.7 C757.2 711.2 758.8 710.7 760.5 710.2 C762.2 709.7 763.8 709.2 765.5 708.7 C767.2 708.2 768.8 707.8 770.5 707.3 C772.2 706.8 773.8 706.4 775.5 705.9 C777.2 705.4 778.8 705.0 780.5 704.5 C782.2 704.0 783.8 703.5 785.5 703.0 C787.2 702.5 788.8 702.0 790.5 701.6 C792.2 701.1 793.8 700.7 795.5 700.4 C797.2 700.0 798.8 699.7 800.5 699.5 C802.2 699.3 803.8 699.2 805.5 699.1 C807.2 699.0 808.8 699.0 810.5 699.0 C812.2 699.0 813.8 699.0 815.5 699.0 C817.2 699.1 818.8 699.1 820.5 699.2 C822.2 699.2 823.8 699.3 825.5 699.4 C827.2 699.4 828.8 699.5 830.5 699.6 C832.2 699.7 833.8 699.8 835.5 699.9 C837.2 700.0 838.8 700.2 840.5 700.3 C842.2 700.4 843.8 700.6 845.5 700.8 C847.2 700.9 848.8 701.1 850.5 701.3 C852.2 701.5 853.8 701.7 855.5 701.8 C857.2 702.0 858.8 702.2 860.5 702.3 C862.2 702.5 863.8 702.7 865.5 702.8 C867.2 702.9 868.8 703.1 870.5 703.2 C872.2 703.3 873.8 703.5 875.5 703.6 C877.2 703.7 878.8 703.8 880.5 703.9 C882.2 704.0 883.8 704.1 885.5 704.2 C887.2 704.2 888.8 704.3 890.5 704.3 C892.2 704.4 893.8 704.4 895.5 704.4 C897.2 704.5 898.8 704.5 900.5 704.6 C902.2 704.6 903.8 704.7 905.5 704.7 C907.2 704.8 908.8 704.8 910.5 704.9 C912.2 704.9 913.8 704.9 915.5 705.0 C917.2 705.0 918.8 705.0 920.5 705.0 C922.2 705.1 923.8 705.1 925.5 705.1 C927.2 705.1 928.8 705.1 930.5 705.2 C932.2 705.2 933.8 705.2 935.5 705.2 C937.2 705.2 938.8 705.3 940.5 705.3 C942.2 705.3 943.8 705.3 945.5 705.3 C947.2 705.4 948.8 705.4 950.5 705.4 C952.2 705.4 953.8 705.4 955.5 705.4 C957.2 705.5 959.7 705.5 960.5 705.5"/>
<path class="cv" stroke="#ff0000" d="M140.50 1039.25 C141.3 1039.1 143.8 1038.8 145.5 1038.5 C147.2 1038.3 148.8 1038.1 150.5 1037.8 C152.2 1037.6 153.8 1037.4 155.5 1037.0 C157.2 1036.6 158.8 1036.2 160.5 1035.5 C162.2 1034.9 163.8 1034.1 165.5 1033.3 C167.2 1032.4 168.8 1031.4 170.5 1030.6 C172.2 1029.7 173.8 1028.9 175.5 1028.2 C177.2 1027.5 178.8 1027.0 180.5 1026.4 C182.2 1025.8 183.8 1025.2 185.5 1024.6 C187.2 1024.0 188.8 1023.3 190.5 1022.7 C192.2 1022.0 193.8 1021.2 195.5 1020.6 C197.2 1019.9 198.8 1019.2 200.5 1018.6 C202.2 1018.0 203.8 1017.5 205.5 1016.9 C207.2 1016.3 208.8 1015.7 210.5 1015.1 C212.2 1014.5 213.8 1013.9 215.5 1013.3 C217.2 1012.6 218.8 1011.9 220.5 1011.2 C222.2 1010.5 223.8 1009.8 225.5 1009.2 C227.2 1008.5 228.8 1007.9 230.5 1007.4 C232.2 1006.9 233.8 1006.4 235.5 1005.9 C237.2 1005.5 238.8 1005.1 240.5 1004.7 C242.2 1004.3 243.8 1003.9 245.5 1003.5 C247.2 1003.1 248.8 1002.8 250.5 1002.4 C252.2 1002.1 253.8 1001.7 255.5 1001.4 C257.2 1001.1 258.8 1000.8 260.5 1000.5 C262.2 1000.2 263.8 999.9 265.5 999.6 C267.2 999.3 268.8 999.0 270.5 998.6 C272.2 998.3 273.8 998.0 275.5 997.7 C277.2 997.4 278.8 997.1 280.5 996.7 C282.2 996.4 283.8 996.1 285.5 995.8 C287.2 995.5 288.8 995.2 290.5 994.9 C292.2 994.6 293.8 994.4 295.5 994.1 C297.2 993.8 298.8 993.6 300.5 993.3 C302.2 993.1 303.8 992.8 305.5 992.6 C307.2 992.4 308.8 992.2 310.5 991.9 C312.2 991.7 313.8 991.5 315.5 991.4 C317.2 991.2 318.8 991.0 320.5 990.9 C322.2 990.7 323.8 990.6 325.5 990.5 C327.2 990.4 328.8 990.3 330.5 990.3 C332.2 990.2 333.8 990.2 335.5 990.2 C337.2 990.3 338.8 990.3 340.5 990.4 C342.2 990.4 343.8 990.5 345.5 990.5 C347.2 990.6 348.8 990.6 350.5 990.7 C352.2 990.7 353.8 990.7 355.5 990.7 C357.2 990.8 358.8 990.8 360.5 990.8 C362.2 990.8 363.8 990.8 365.5 990.8 C367.2 990.8 368.8 990.8 370.5 990.8 C372.2 990.8 373.8 990.8 375.5 990.8 C377.2 990.8 378.8 990.8 380.5 990.8 C382.2 990.8 383.8 990.8 385.5 990.8 C387.2 990.8 388.8 990.9 390.5 990.9 C392.2 990.8 393.8 990.8 395.5 990.7 C397.2 990.6 398.8 990.3 400.5 990.0 C402.2 989.7 403.8 989.4 405.5 989.0 C407.2 988.7 408.8 988.3 410.5 987.8 C412.2 987.3 413.8 986.7 415.5 986.1 C417.2 985.4 418.8 984.6 420.5 983.8 C422.2 983.0 423.8 982.2 425.5 981.3 C427.2 980.3 428.8 979.2 430.5 978.1 C432.2 976.9 433.8 975.6 435.5 974.2 C437.2 972.9 438.8 971.3 440.5 969.9 C442.2 968.5 443.8 967.0 445.5 965.6 C447.2 964.1 448.8 962.7 450.5 961.2 C452.2 959.7 453.8 958.2 455.5 956.6 C457.2 955.1 458.8 953.4 460.5 951.7 C462.2 949.9 463.8 948.1 465.5 946.2 C467.2 944.3 468.8 942.4 470.5 940.4 C472.2 938.4 473.8 936.4 475.5 934.3 C477.2 932.3 478.8 930.2 480.5 928.1 C482.2 926.1 483.8 923.9 485.5 921.8 C487.2 919.6 488.8 917.4 490.5 915.3 C492.2 913.1 493.8 910.9 495.5 908.9 C497.2 906.8 498.8 904.7 500.5 902.8 C502.2 900.8 503.8 898.9 505.5 897.0 C507.2 895.1 508.8 893.3 510.5 891.5 C512.2 889.7 513.8 888.0 515.5 886.4 C517.2 884.8 518.8 883.2 520.5 881.8 C522.2 880.3 523.8 879.0 525.5 877.7 C527.2 876.5 528.8 875.3 530.5 874.2 C532.2 873.1 533.8 872.0 535.5 871.0 C537.2 870.0 538.8 869.1 540.5 868.2 C542.2 867.3 543.8 866.5 545.5 865.8 C547.2 865.0 548.8 864.4 550.5 863.7 C552.2 863.1 553.8 862.5 555.5 861.9 C557.2 861.4 558.8 860.8 560.5 860.4 C562.2 860.0 563.8 859.8 565.5 859.5 C567.2 859.3 568.8 859.2 570.5 859.1 C572.2 858.9 573.8 858.8 575.5 858.7 C577.2 858.5 578.8 858.4 580.5 858.3 C582.2 858.2 583.8 858.1 585.5 858.1 C587.2 858.0 588.8 857.9 590.5 858.0 C592.2 858.0 593.8 858.0 595.5 858.1 C597.2 858.3 598.8 858.5 600.5 858.7 C602.2 858.9 603.8 859.2 605.5 859.5 C607.2 859.8 608.8 860.1 610.5 860.4 C612.2 860.8 613.8 861.1 615.5 861.5 C617.2 861.9 618.8 862.3 620.5 862.7 C622.2 863.1 623.8 863.5 625.5 863.9 C627.2 864.3 628.8 864.7 630.5 865.1 C632.2 865.5 633.8 865.9 635.5 866.4 C637.2 866.8 638.8 867.3 640.5 867.8 C642.2 868.4 643.8 869.0 645.5 869.6 C647.2 870.2 648.8 870.8 650.5 871.5 C652.2 872.1 653.8 872.7 655.5 873.3 C657.2 874.0 658.8 874.6 660.5 875.2 C662.2 875.8 663.8 876.4 665.5 877.0 C667.2 877.6 668.8 878.2 670.5 878.8 C672.2 879.3 673.8 879.9 675.5 880.5 C677.2 881.1 678.8 881.6 680.5 882.2 C682.2 882.8 683.8 883.3 685.5 883.9 C687.2 884.5 688.8 885.1 690.5 885.7 C692.2 886.2 693.8 886.8 695.5 887.4 C697.2 888.0 698.8 888.5 700.5 889.0 C702.2 889.6 703.8 890.1 705.5 890.5 C707.2 891.0 708.8 891.5 710.5 892.0 C712.2 892.5 713.8 893.0 715.5 893.5 C717.2 894.0 718.8 894.5 720.5 895.0 C722.2 895.6 723.8 896.1 725.5 896.7 C727.2 897.2 728.8 897.7 730.5 898.3 C732.2 898.8 733.8 899.3 735.5 899.8 C737.2 900.3 738.8 900.7 740.5 901.2 C742.2 901.6 743.8 902.1 745.5 902.5 C747.2 903.0 748.8 903.4 750.5 903.8 C752.2 904.3 753.8 904.7 755.5 905.1 C757.2 905.5 758.8 906.0 760.5 906.4 C762.2 906.8 763.8 907.2 765.5 907.6 C767.2 908.0 768.8 908.4 770.5 908.7 C772.2 909.1 773.8 909.5 775.5 909.9 C777.2 910.2 778.8 910.6 780.5 910.9 C782.2 911.3 783.8 911.6 785.5 912.0 C787.2 912.3 788.8 912.6 790.5 913.0 C792.2 913.3 793.8 913.6 795.5 913.9 C797.2 914.2 798.8 914.5 800.5 914.7 C802.2 915.0 803.8 915.3 805.5 915.5 C807.2 915.8 808.8 916.0 810.5 916.2 C812.2 916.4 813.8 916.6 815.5 916.8 C817.2 917.0 818.8 917.2 820.5 917.3 C822.2 917.5 823.8 917.6 825.5 917.8 C827.2 917.9 828.8 918.0 830.5 918.1 C832.2 918.2 833.8 918.2 835.5 918.3 C837.2 918.4 838.8 918.4 840.5 918.5 C842.2 918.5 843.8 918.5 845.5 918.5 C847.2 918.5 848.8 918.5 850.5 918.5 C852.2 918.5 853.8 918.5 855.5 918.5 C857.2 918.5 858.8 918.5 860.5 918.5 C862.2 918.5 863.8 918.5 865.5 918.5 C867.2 918.5 868.8 918.6 870.5 918.6 C872.2 918.7 873.8 918.7 875.5 918.8 C877.2 918.9 878.8 919.0 880.5 919.1 C882.2 919.3 883.8 919.4 885.5 919.5 C887.2 919.6 888.8 919.7 890.5 919.8 C892.2 920.0 893.8 920.1 895.5 920.3 C897.2 920.5 898.8 920.7 900.5 921.0 C902.2 921.2 903.8 921.5 905.5 921.8 C907.2 922.1 908.8 922.4 910.5 922.7 C912.2 923.1 913.8 923.4 915.5 923.7 C917.2 924.1 918.8 924.4 920.5 924.8 C922.2 925.2 923.8 925.5 925.5 925.9 C927.2 926.3 928.8 926.7 930.5 927.1 C932.2 927.5 933.8 927.9 935.5 928.3 C937.2 928.7 938.8 929.0 940.5 929.4 C942.2 929.8 943.8 930.2 945.5 930.5 C947.2 930.9 948.8 931.3 950.5 931.6 C952.2 932.0 953.8 932.3 955.5 932.7 C957.2 933.0 959.7 933.6 960.5 933.8"/>
<path class="cv" stroke="#000000" d="M140.50 1115.00 C141.3 1114.9 143.8 1114.8 145.5 1114.7 C147.2 1114.6 148.8 1114.4 150.5 1114.3 C152.2 1114.1 153.8 1113.9 155.5 1113.6 C157.2 1113.3 158.8 1112.9 160.5 1112.5 C162.2 1112.1 163.8 1111.7 165.5 1111.2 C167.2 1110.8 168.8 1110.3 170.5 1109.8 C172.2 1109.4 173.8 1108.9 175.5 1108.4 C177.2 1107.9 178.8 1107.4 180.5 1106.9 C182.2 1106.5 183.8 1106.1 185.5 1105.7 C187.2 1105.3 188.8 1104.9 190.5 1104.5 C192.2 1104.2 193.8 1103.8 195.5 1103.5 C197.2 1103.2 198.8 1102.9 200.5 1102.6 C202.2 1102.4 203.8 1102.2 205.5 1102.0 C207.2 1101.8 208.8 1101.7 210.5 1101.6 C212.2 1101.5 213.8 1101.4 215.5 1101.3 C217.2 1101.3 218.8 1101.2 220.5 1101.2 C222.2 1101.1 223.8 1101.1 225.5 1101.1 C227.2 1101.0 228.8 1101.0 230.5 1101.0 C232.2 1101.0 233.8 1101.0 235.5 1101.0 C237.2 1101.0 238.8 1101.0 240.5 1101.0 C242.2 1101.0 243.8 1101.0 245.5 1101.0 C247.2 1101.1 248.8 1101.1 250.5 1101.1 C252.2 1101.2 253.8 1101.2 255.5 1101.3 C257.2 1101.3 258.8 1101.4 260.5 1101.5 C262.2 1101.6 263.8 1101.6 265.5 1101.7 C267.2 1101.8 268.8 1101.9 270.5 1102.0 C272.2 1102.1 273.8 1102.2 275.5 1102.3 C277.2 1102.4 278.8 1102.4 280.5 1102.5 C282.2 1102.6 283.8 1102.6 285.5 1102.7 C287.2 1102.8 288.8 1102.8 290.5 1102.9 C292.2 1102.9 293.8 1103.0 295.5 1103.0 C297.2 1103.1 298.8 1103.1 300.5 1103.2 C302.2 1103.2 303.8 1103.2 305.5 1103.2 C307.2 1103.3 308.8 1103.3 310.5 1103.3 C312.2 1103.3 313.8 1103.3 315.5 1103.3 C317.2 1103.3 318.8 1103.3 320.5 1103.2 C322.2 1103.2 323.8 1103.2 325.5 1103.2 C327.2 1103.2 328.8 1103.2 330.5 1103.3 C332.2 1103.3 333.8 1103.3 335.5 1103.4 C337.2 1103.4 338.8 1103.4 340.5 1103.5 C342.2 1103.5 343.8 1103.6 345.5 1103.6 C347.2 1103.7 348.8 1103.7 350.5 1103.7 C352.2 1103.7 353.8 1103.7 355.5 1103.7 C357.2 1103.7 358.8 1103.7 360.5 1103.7 C362.2 1103.7 363.8 1103.7 365.5 1103.7 C367.2 1103.7 368.8 1103.7 370.5 1103.6 C372.2 1103.6 373.8 1103.6 375.5 1103.5 C377.2 1103.5 378.8 1103.5 380.5 1103.4 C382.2 1103.4 383.8 1103.3 385.5 1103.3 C387.2 1103.2 388.8 1103.1 390.5 1103.1 C392.2 1103.0 393.8 1102.9 395.5 1102.8 C397.2 1102.7 398.8 1102.5 400.5 1102.4 C402.2 1102.2 403.8 1102.0 405.5 1101.8 C407.2 1101.6 408.8 1101.3 410.5 1101.0 C412.2 1100.7 413.8 1100.3 415.5 1099.8 C417.2 1099.4 418.8 1098.8 420.5 1098.1 C422.2 1097.4 423.8 1096.7 425.5 1095.8 C427.2 1095.0 428.8 1094.1 430.5 1093.1 C432.2 1092.2 433.8 1091.2 435.5 1090.1 C437.2 1089.1 438.8 1088.0 440.5 1086.8 C442.2 1085.6 443.8 1084.4 445.5 1083.1 C447.2 1081.8 448.8 1080.5 450.5 1079.1 C452.2 1077.8 453.8 1076.4 455.5 1074.9 C457.2 1073.5 458.8 1072.0 460.5 1070.5 C462.2 1069.0 463.8 1067.4 465.5 1065.8 C467.2 1064.2 468.8 1062.6 470.5 1060.9 C472.2 1059.3 473.8 1057.6 475.5 1056.0 C477.2 1054.4 478.8 1052.8 480.5 1051.3 C482.2 1049.7 483.8 1048.2 485.5 1046.7 C487.2 1045.2 488.8 1043.7 490.5 1042.3 C492.2 1040.8 493.8 1039.4 495.5 1038.0 C497.2 1036.7 498.8 1035.3 500.5 1034.1 C502.2 1032.8 503.8 1031.6 505.5 1030.4 C507.2 1029.3 508.8 1028.2 510.5 1027.1 C512.2 1026.0 513.8 1024.9 515.5 1023.9 C517.2 1022.8 518.8 1021.8 520.5 1020.8 C522.2 1019.8 523.8 1018.7 525.5 1017.7 C527.2 1016.7 528.8 1015.7 530.5 1014.7 C532.2 1013.7 533.8 1012.8 535.5 1011.9 C537.2 1011.1 538.8 1010.3 540.5 1009.6 C542.2 1008.9 543.8 1008.3 545.5 1007.8 C547.2 1007.2 548.8 1006.8 550.5 1006.4 C552.2 1006.0 553.8 1005.7 555.5 1005.4 C557.2 1005.0 558.8 1004.7 560.5 1004.3 C562.2 1004.0 563.8 1003.6 565.5 1003.2 C567.2 1002.8 568.8 1002.4 570.5 1002.1 C572.2 1001.7 573.8 1001.3 575.5 1001.0 C577.2 1000.7 578.8 1000.4 580.5 1000.1 C582.2 999.9 583.8 999.6 585.5 999.5 C587.2 999.3 588.8 999.1 590.5 999.0 C592.2 998.8 593.8 998.7 595.5 998.6 C597.2 998.5 598.8 998.4 600.5 998.3 C602.2 998.2 603.8 998.1 605.5 998.0 C607.2 997.9 608.8 997.9 610.5 997.8 C612.2 997.8 613.8 997.7 615.5 997.7 C617.2 997.6 618.8 997.6 620.5 997.5 C622.2 997.5 623.8 997.4 625.5 997.3 C627.2 997.3 628.8 997.2 630.5 997.1 C632.2 997.1 633.8 997.0 635.5 997.0 C637.2 997.0 638.8 997.0 640.5 997.0 C642.2 997.0 643.8 997.1 645.5 997.2 C647.2 997.2 648.8 997.3 650.5 997.5 C652.2 997.6 653.8 997.7 655.5 997.8 C657.2 997.9 658.8 998.1 660.5 998.2 C662.2 998.3 663.8 998.4 665.5 998.4 C667.2 998.5 668.8 998.5 670.5 998.6 C672.2 998.6 673.8 998.6 675.5 998.6 C677.2 998.7 678.8 998.6 680.5 998.6 C682.2 998.6 683.8 998.6 685.5 998.6 C687.2 998.6 688.8 998.6 690.5 998.5 C692.2 998.5 693.8 998.5 695.5 998.4 C697.2 998.4 698.8 998.3 700.5 998.3 C702.2 998.2 703.8 998.2 705.5 998.1 C707.2 998.0 708.8 998.0 710.5 997.9 C712.2 997.8 713.8 997.7 715.5 997.6 C717.2 997.5 718.8 997.3 720.5 997.2 C722.2 997.1 723.8 996.9 725.5 996.8 C727.2 996.6 728.8 996.4 730.5 996.2 C732.2 996.1 733.8 995.9 735.5 995.7 C737.2 995.5 738.8 995.3 740.5 995.2 C742.2 995.0 743.8 994.8 745.5 994.7 C747.2 994.5 748.8 994.4 750.5 994.2 C752.2 994.0 753.8 993.9 755.5 993.7 C757.2 993.6 758.8 993.4 760.5 993.2 C762.2 993.1 763.8 992.9 765.5 992.7 C767.2 992.5 768.8 992.2 770.5 992.0 C772.2 991.8 773.8 991.5 775.5 991.3 C777.2 991.0 778.8 990.7 780.5 990.5 C782.2 990.2 783.8 989.9 785.5 989.7 C787.2 989.4 788.8 989.2 790.5 989.0 C792.2 988.7 793.8 988.5 795.5 988.3 C797.2 988.1 798.8 987.9 800.5 987.7 C802.2 987.5 803.8 987.3 805.5 987.1 C807.2 986.9 808.8 986.8 810.5 986.6 C812.2 986.4 813.8 986.3 815.5 986.1 C817.2 986.0 818.8 985.9 820.5 985.7 C822.2 985.6 823.8 985.5 825.5 985.4 C827.2 985.3 828.8 985.2 830.5 985.1 C832.2 985.0 833.8 984.9 835.5 984.9 C837.2 984.8 838.8 984.7 840.5 984.7 C842.2 984.6 843.8 984.5 845.5 984.5 C847.2 984.4 848.8 984.4 850.5 984.4 C852.2 984.3 853.8 984.3 855.5 984.3 C857.2 984.3 858.8 984.3 860.5 984.4 C862.2 984.4 863.8 984.5 865.5 984.6 C867.2 984.6 868.8 984.7 870.5 984.9 C872.2 985.0 873.8 985.1 875.5 985.2 C877.2 985.4 878.8 985.5 880.5 985.7 C882.2 985.8 883.8 986.0 885.5 986.2 C887.2 986.3 888.8 986.6 890.5 986.7 C892.2 986.9 893.8 987.1 895.5 987.3 C897.2 987.5 898.8 987.6 900.5 987.8 C902.2 987.9 903.8 988.0 905.5 988.1 C907.2 988.2 908.8 988.3 910.5 988.4 C912.2 988.5 913.8 988.5 915.5 988.6 C917.2 988.7 918.8 988.7 920.5 988.8 C922.2 988.9 923.8 988.9 925.5 989.0 C927.2 989.0 928.8 989.1 930.5 989.2 C932.2 989.2 933.8 989.3 935.5 989.3 C937.2 989.4 938.8 989.5 940.5 989.5 C942.2 989.6 943.8 989.7 945.5 989.7 C947.2 989.8 948.8 989.8 950.5 989.9 C952.2 990.0 953.8 990.0 955.5 990.1 C957.2 990.1 959.7 990.2 960.5 990.2"/>
<path class="cv" stroke="#0000ff" d="M140.50 1200.00 C141.3 1200.0 143.8 1200.0 145.5 1199.9 C147.2 1199.9 148.8 1199.9 150.5 1199.9 C152.2 1199.8 153.8 1199.8 155.5 1199.8 C157.2 1199.8 158.8 1199.7 160.5 1199.7 C162.2 1199.7 163.8 1199.7 165.5 1199.7 C167.2 1199.6 168.8 1199.6 170.5 1199.6 C172.2 1199.6 173.8 1199.6 175.5 1199.5 C177.2 1199.5 178.8 1199.5 180.5 1199.5 C182.2 1199.5 183.8 1199.5 185.5 1199.4 C187.2 1199.4 188.8 1199.4 190.5 1199.4 C192.2 1199.4 193.8 1199.3 195.5 1199.3 C197.2 1199.3 198.8 1199.3 200.5 1199.3 C202.2 1199.3 203.8 1199.3 205.5 1199.4 C207.2 1199.4 208.8 1199.5 210.5 1199.5 C212.2 1199.6 213.8 1199.7 215.5 1199.9 C217.2 1200.0 218.8 1200.1 220.5 1200.3 C222.2 1200.4 223.8 1200.6 225.5 1200.8 C227.2 1201.0 228.8 1201.2 230.5 1201.3 C232.2 1201.5 233.8 1201.6 235.5 1201.8 C237.2 1201.9 238.8 1202.1 240.5 1202.2 C242.2 1202.3 243.8 1202.4 245.5 1202.6 C247.2 1202.7 248.8 1202.8 250.5 1202.9 C252.2 1203.0 253.8 1203.1 255.5 1203.2 C257.2 1203.3 258.8 1203.4 260.5 1203.5 C262.2 1203.6 263.8 1203.7 265.5 1203.8 C267.2 1203.8 268.8 1203.9 270.5 1204.0 C272.2 1204.1 273.8 1204.1 275.5 1204.2 C277.2 1204.2 278.8 1204.2 280.5 1204.3 C282.2 1204.3 283.8 1204.2 285.5 1204.2 C287.2 1204.1 288.8 1204.0 290.5 1203.9 C292.2 1203.8 293.8 1203.6 295.5 1203.4 C297.2 1203.2 298.8 1203.0 300.5 1202.9 C302.2 1202.7 303.8 1202.6 305.5 1202.5 C307.2 1202.4 308.8 1202.4 310.5 1202.3 C312.2 1202.2 313.8 1202.2 315.5 1202.2 C317.2 1202.1 318.8 1202.1 320.5 1202.1 C322.2 1202.1 323.8 1202.0 325.5 1202.0 C327.2 1202.0 328.8 1202.0 330.5 1202.0 C332.2 1202.0 333.8 1202.0 335.5 1202.0 C337.2 1202.0 338.8 1202.0 340.5 1202.1 C342.2 1202.1 343.8 1202.1 345.5 1202.1 C347.2 1202.2 348.8 1202.2 350.5 1202.2 C352.2 1202.2 353.8 1202.2 355.5 1202.3 C357.2 1202.3 358.8 1202.3 360.5 1202.4 C362.2 1202.4 363.8 1202.4 365.5 1202.5 C367.2 1202.5 368.8 1202.6 370.5 1202.6 C372.2 1202.6 373.8 1202.6 375.5 1202.7 C377.2 1202.7 378.8 1202.7 380.5 1202.6 C382.2 1202.6 383.8 1202.6 385.5 1202.5 C387.2 1202.4 388.8 1202.3 390.5 1202.1 C392.2 1202.0 393.8 1201.8 395.5 1201.5 C397.2 1201.3 398.8 1201.1 400.5 1200.8 C402.2 1200.6 403.8 1200.3 405.5 1200.0 C407.2 1199.8 408.8 1199.6 410.5 1199.3 C412.2 1199.1 413.8 1198.9 415.5 1198.7 C417.2 1198.5 418.8 1198.3 420.5 1198.1 C422.2 1197.8 423.8 1197.6 425.5 1197.4 C427.2 1197.2 428.8 1197.0 430.5 1196.9 C432.2 1196.7 433.8 1196.5 435.5 1196.3 C437.2 1196.1 438.8 1196.0 440.5 1195.8 C442.2 1195.7 443.8 1195.6 445.5 1195.4 C447.2 1195.3 448.8 1195.2 450.5 1195.1 C452.2 1195.0 453.8 1194.9 455.5 1194.8 C457.2 1194.7 458.8 1194.5 460.5 1194.5 C462.2 1194.4 463.8 1194.3 465.5 1194.3 C467.2 1194.3 468.8 1194.3 470.5 1194.4 C472.2 1194.5 473.8 1194.7 475.5 1194.9 C477.2 1195.0 478.8 1195.3 480.5 1195.4 C482.2 1195.5 483.8 1195.6 485.5 1195.7 C487.2 1195.7 488.8 1195.7 490.5 1195.7 C492.2 1195.7 493.8 1195.7 495.5 1195.6 C497.2 1195.6 498.8 1195.5 500.5 1195.5 C502.2 1195.4 503.8 1195.4 505.5 1195.3 C507.2 1195.3 508.8 1195.3 510.5 1195.3 C512.2 1195.3 513.8 1195.3 515.5 1195.4 C517.2 1195.5 518.8 1195.6 520.5 1195.7 C522.2 1195.7 523.8 1195.9 525.5 1195.9 C527.2 1196.0 528.8 1196.0 530.5 1195.9 C532.2 1195.9 533.8 1195.7 535.5 1195.5 C537.2 1195.3 538.8 1195.0 540.5 1194.8 C542.2 1194.5 543.8 1194.2 545.5 1193.8 C547.2 1193.5 548.8 1193.2 550.5 1192.9 C552.2 1192.6 553.8 1192.3 555.5 1191.9 C557.2 1191.6 558.8 1191.3 560.5 1191.0 C562.2 1190.7 563.8 1190.4 565.5 1190.1 C567.2 1189.8 568.8 1189.6 570.5 1189.4 C572.2 1189.1 573.8 1188.9 575.5 1188.7 C577.2 1188.5 578.8 1188.3 580.5 1188.2 C582.2 1188.0 583.8 1187.8 585.5 1187.6 C587.2 1187.4 588.8 1187.1 590.5 1186.9 C592.2 1186.7 593.8 1186.5 595.5 1186.3 C597.2 1186.1 598.8 1185.9 600.5 1185.7 C602.2 1185.5 603.8 1185.3 605.5 1185.0 C607.2 1184.8 608.8 1184.6 610.5 1184.3 C612.2 1184.1 613.8 1183.8 615.5 1183.6 C617.2 1183.4 618.8 1183.2 620.5 1183.1 C622.2 1183.0 623.8 1183.0 625.5 1183.0 C627.2 1183.0 628.8 1183.0 630.5 1183.0 C632.2 1183.1 633.8 1183.2 635.5 1183.2 C637.2 1183.2 638.8 1183.3 640.5 1183.3 C642.2 1183.3 643.8 1183.3 645.5 1183.3 C647.2 1183.3 648.8 1183.3 650.5 1183.2 C652.2 1183.2 653.8 1183.2 655.5 1183.2 C657.2 1183.2 658.8 1183.1 660.5 1183.1 C662.2 1183.1 663.8 1183.1 665.5 1183.1 C667.2 1183.0 668.8 1183.0 670.5 1183.0 C672.2 1183.0 673.8 1183.0 675.5 1183.0 C677.2 1183.0 678.8 1183.0 680.5 1183.1 C682.2 1183.1 683.8 1183.1 685.5 1183.1 C687.2 1183.1 688.8 1183.2 690.5 1183.2 C692.2 1183.2 693.8 1183.2 695.5 1183.2 C697.2 1183.2 698.8 1183.2 700.5 1183.2 C702.2 1183.1 703.8 1183.1 705.5 1183.0 C707.2 1183.0 708.8 1182.9 710.5 1182.7 C712.2 1182.6 713.8 1182.4 715.5 1182.2 C717.2 1182.1 718.8 1181.8 720.5 1181.6 C722.2 1181.4 723.8 1181.1 725.5 1180.9 C727.2 1180.6 728.8 1180.4 730.5 1180.2 C732.2 1180.0 733.8 1179.8 735.5 1179.6 C737.2 1179.4 738.8 1179.3 740.5 1179.1 C742.2 1178.9 743.8 1178.8 745.5 1178.6 C747.2 1178.4 748.8 1178.3 750.5 1178.1 C752.2 1177.9 753.8 1177.7 755.5 1177.5 C757.2 1177.2 758.8 1177.0 760.5 1176.7 C762.2 1176.4 763.8 1176.0 765.5 1175.6 C767.2 1175.2 768.8 1174.8 770.5 1174.3 C772.2 1173.9 773.8 1173.5 775.5 1173.0 C777.2 1172.5 778.8 1172.1 780.5 1171.6 C782.2 1171.1 783.8 1170.6 785.5 1170.2 C787.2 1169.7 788.8 1169.2 790.5 1168.7 C792.2 1168.2 793.8 1167.7 795.5 1167.2 C797.2 1166.7 798.8 1166.2 800.5 1165.8 C802.2 1165.3 803.8 1164.9 805.5 1164.5 C807.2 1164.1 808.8 1163.6 810.5 1163.2 C812.2 1162.8 813.8 1162.4 815.5 1162.0 C817.2 1161.6 818.8 1161.2 820.5 1160.8 C822.2 1160.4 823.8 1160.0 825.5 1159.6 C827.2 1159.3 828.8 1158.9 830.5 1158.5 C832.2 1158.0 833.8 1157.6 835.5 1157.2 C837.2 1156.8 838.8 1156.4 840.5 1155.9 C842.2 1155.5 843.8 1155.1 845.5 1154.7 C847.2 1154.2 848.8 1153.8 850.5 1153.4 C852.2 1153.0 853.8 1152.6 855.5 1152.3 C857.2 1152.0 858.8 1151.7 860.5 1151.4 C862.2 1151.1 863.8 1150.9 865.5 1150.6 C867.2 1150.3 868.8 1150.1 870.5 1149.8 C872.2 1149.6 873.8 1149.3 875.5 1149.1 C877.2 1148.9 878.8 1148.6 880.5 1148.5 C882.2 1148.3 883.8 1148.1 885.5 1148.0 C887.2 1147.8 888.8 1147.8 890.5 1147.7 C892.2 1147.6 893.8 1147.6 895.5 1147.6 C897.2 1147.5 898.8 1147.5 900.5 1147.4 C902.2 1147.4 903.8 1147.3 905.5 1147.3 C907.2 1147.2 908.8 1147.2 910.5 1147.1 C912.2 1147.1 913.8 1147.1 915.5 1147.0 C917.2 1147.0 918.8 1147.0 920.5 1147.0 C922.2 1147.0 923.8 1147.0 925.5 1146.9 C927.2 1146.9 928.8 1146.9 930.5 1146.9 C932.2 1146.9 933.8 1146.9 935.5 1146.9 C937.2 1146.9 938.8 1147.0 940.5 1147.0 C942.2 1147.0 943.8 1147.0 945.5 1147.1 C947.2 1147.1 948.8 1147.2 950.5 1147.3 C952.2 1147.3 953.8 1147.4 955.5 1147.5 C957.2 1147.6 959.7 1147.7 960.5 1147.8"/>
<text id="l1"><tspan x="135.60" y="88.20" font-size="47.5" letter-spacing="-2.57">Pt/CoO</tspan><tspan x="262.00" y="104.60" font-size="27.5" letter-spacing="0.00">x</tspan><tspan x="273.50" y="88.20" font-size="47.5" letter-spacing="-2.17">/SiO</tspan><tspan x="349.90" y="104.60" font-size="27.5" letter-spacing="0.00">2</tspan></text>
<text id="l2"><tspan x="145.25" y="218.00" font-size="47.5" letter-spacing="-1.89">Pt/SiO</tspan><tspan x="258.30" y="234.40" font-size="27.5" letter-spacing="0.00">2</tspan></text>
<text id="l3"><tspan x="141.00" y="318.30" font-size="47.5" letter-spacing="-4.09">CoO</tspan><tspan x="219.50" y="334.70" font-size="27.5" letter-spacing="0.00">x</tspan><tspan x="230.50" y="318.30" font-size="47.5" letter-spacing="-2.10">/SiO</tspan><tspan x="307.00" y="334.70" font-size="27.5" letter-spacing="0.00">2</tspan></text>
<text id="l4"><tspan x="142.75" y="511.30" font-size="47.5" letter-spacing="-2.74">Pt/CoO</tspan><tspan x="268.20" y="527.70" font-size="27.5" letter-spacing="0.00">x</tspan><tspan x="280.10" y="511.30" font-size="47.5" letter-spacing="-1.71">/TiO</tspan><tspan x="358.40" y="527.70" font-size="27.5" letter-spacing="0.00">2</tspan></text>
<text id="l5"><tspan x="151.50" y="627.00" font-size="47.5" letter-spacing="-1.57">Pt/TiO</tspan><tspan x="266.80" y="643.40" font-size="27.5" letter-spacing="0.00">2</tspan></text>
<text id="l6"><tspan x="144.50" y="723.00" font-size="47.5" letter-spacing="-3.82">CoO</tspan><tspan x="223.20" y="739.40" font-size="27.5" letter-spacing="0.00">x</tspan><tspan x="234.50" y="723.00" font-size="47.5" letter-spacing="-1.78">/TiO</tspan><tspan x="312.60" y="739.40" font-size="27.5" letter-spacing="0.00">2</tspan></text>
<text id="l7"><tspan x="150.25" y="955.70" font-size="47.5" letter-spacing="-2.52">Pt/CoO</tspan><tspan x="277.00" y="972.10" font-size="27.5" letter-spacing="0.00">x</tspan><tspan x="288.40" y="955.70" font-size="47.5" letter-spacing="-4.55">/Al</tspan><tspan x="339.80" y="972.10" font-size="27.5" letter-spacing="0.00">2</tspan><tspan x="352.80" y="955.70" font-size="47.5" letter-spacing="0.00">O</tspan><tspan x="383.00" y="972.10" font-size="27.5" letter-spacing="0.00">3</tspan></text>
<text id="l8"><tspan x="155.25" y="1081.30" font-size="47.5" letter-spacing="-3.14">Pt/Al</tspan><tspan x="242.80" y="1097.70" font-size="27.5" letter-spacing="0.00">2</tspan><tspan x="255.80" y="1081.30" font-size="47.5" letter-spacing="0.00">O</tspan><tspan x="286.00" y="1097.70" font-size="27.5" letter-spacing="0.00">3</tspan></text>
<text id="l9"><tspan x="152.00" y="1178.00" font-size="47.5" letter-spacing="-3.72">CoO</tspan><tspan x="231.30" y="1194.40" font-size="27.5" letter-spacing="0.00">x</tspan><tspan x="242.60" y="1178.00" font-size="47.5" letter-spacing="-4.55">/Al</tspan><tspan x="293.80" y="1194.40" font-size="27.5" letter-spacing="0.00">2</tspan><tspan x="306.80" y="1178.00" font-size="47.5" letter-spacing="0.00">O</tspan><tspan x="337.00" y="1194.40" font-size="27.5" letter-spacing="0.00">3</tspan></text>
<text id="t0"><tspan x="77.40" y="1317.30" font-size="58" letter-spacing="0.00">0</tspan></text>
<text id="t1"><tspan x="227.60" y="1317.30" font-size="58" letter-spacing="-4.70">100</tspan></text>
<text id="t2"><tspan x="399.30" y="1317.30" font-size="58" letter-spacing="-3.40">200</tspan></text>
<text id="t3"><tspan x="573.30" y="1317.30" font-size="58" letter-spacing="-3.90">300</tspan></text>
<text id="t4"><tspan x="746.50" y="1317.30" font-size="58" letter-spacing="-3.75">400</tspan></text>
<text id="t5"><tspan x="919.50" y="1317.30" font-size="58" letter-spacing="-3.85">500</tspan></text>
<text id="xt"><tspan x="393.80" y="1363.00" font-size="57" letter-spacing="-2.96">Temperature </tspan><tspan x="661.30" y="1363.00" font-size="57" letter-spacing="0.00">/ </tspan><tspan x="690.80" y="1363.00" font-size="57" letter-spacing="-2.39">°C</tspan></text>
<text id="yt" transform="rotate(-90)"><tspan x="-804.10" y="49.20" font-size="57" letter-spacing="-2.72">TCD </tspan><tspan x="-686.50" y="49.20" font-size="57" letter-spacing="-2.57">Signal </tspan><tspan x="-540.60" y="49.20" font-size="57" letter-spacing="0.00">/ </tspan><tspan x="-512.20" y="49.20" font-size="57" letter-spacing="-2.38">a.u.</tspan></text>
</svg>
</body>
</html>
